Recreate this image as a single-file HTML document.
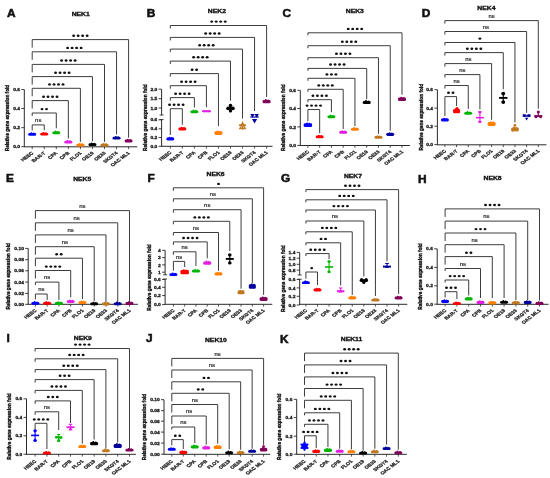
<!DOCTYPE html>
<html><head><meta charset="utf-8"><style>
html,body{margin:0;padding:0;background:#fff;}
svg{display:block;font-family:"Liberation Sans",sans-serif;filter:blur(0.3px);}
</style></head><body>
<svg width="550" height="478" viewBox="0 0 550 478">
<rect width="550" height="478" fill="#fff"/>
<text transform="translate(7,16.7) scale(1.08,0.92)" font-size="11" font-weight="bold" fill="#111" stroke="#111" stroke-width="0.55">A</text>
<text transform="translate(80.7,15.6) scale(1,0.84)" font-size="6.8" font-weight="bold" text-anchor="middle" fill="#111" stroke="#111" stroke-width="0.4">NEK1</text>
<line x1="24.3" y1="89.5" x2="24.3" y2="146.7" stroke="#2a2a2a" stroke-width="1"/>
<line x1="21.3" y1="146.7" x2="24.3" y2="146.7" stroke="#2a2a2a" stroke-width="0.9"/>
<text transform="translate(20,148.3) scale(1,0.76)" font-size="4.9" font-weight="bold" text-anchor="end" fill="#222" stroke="#222" stroke-width="0.35">0.0</text>
<line x1="21.3" y1="127.7" x2="24.3" y2="127.7" stroke="#2a2a2a" stroke-width="0.9"/>
<text transform="translate(20,129.3) scale(1,0.76)" font-size="4.9" font-weight="bold" text-anchor="end" fill="#222" stroke="#222" stroke-width="0.35">0.2</text>
<line x1="21.3" y1="108.5" x2="24.3" y2="108.5" stroke="#2a2a2a" stroke-width="0.9"/>
<text transform="translate(20,110.1) scale(1,0.76)" font-size="4.9" font-weight="bold" text-anchor="end" fill="#222" stroke="#222" stroke-width="0.35">0.4</text>
<line x1="21.3" y1="89.5" x2="24.3" y2="89.5" stroke="#2a2a2a" stroke-width="0.9"/>
<text transform="translate(20,91.1) scale(1,0.76)" font-size="4.9" font-weight="bold" text-anchor="end" fill="#222" stroke="#222" stroke-width="0.35">0.6</text>
<text transform="translate(8.7,118) scale(1,0.76) rotate(-90)" font-size="6.2" font-weight="bold" text-anchor="middle" fill="#111" stroke="#111" stroke-width="0.4">Relative gene expression fold</text>
<line x1="23.8" y1="146.8" x2="137.3" y2="146.8" stroke="#2a2a2a" stroke-width="1"/>
<line x1="32.2" y1="146.8" x2="32.2" y2="149.1" stroke="#2a2a2a" stroke-width="0.8"/>
<text transform="translate(33.8,153.4) scale(1,0.76) rotate(-45)" font-size="5.5" font-weight="bold" text-anchor="end" fill="#222" stroke="#222" stroke-width="0.3">HEEC</text>
<line x1="44.25" y1="146.8" x2="44.25" y2="149.1" stroke="#2a2a2a" stroke-width="0.8"/>
<text transform="translate(45.85,153.4) scale(1,0.76) rotate(-45)" font-size="5.5" font-weight="bold" text-anchor="end" fill="#222" stroke="#222" stroke-width="0.3">BAR-T</text>
<line x1="56.3" y1="146.8" x2="56.3" y2="149.1" stroke="#2a2a2a" stroke-width="0.8"/>
<text transform="translate(57.9,153.4) scale(1,0.76) rotate(-45)" font-size="5.5" font-weight="bold" text-anchor="end" fill="#222" stroke="#222" stroke-width="0.3">CPA</text>
<line x1="68.35" y1="146.8" x2="68.35" y2="149.1" stroke="#2a2a2a" stroke-width="0.8"/>
<text transform="translate(69.95,153.4) scale(1,0.76) rotate(-45)" font-size="5.5" font-weight="bold" text-anchor="end" fill="#222" stroke="#222" stroke-width="0.3">CPB</text>
<line x1="80.4" y1="146.8" x2="80.4" y2="149.1" stroke="#2a2a2a" stroke-width="0.8"/>
<text transform="translate(82,153.4) scale(1,0.76) rotate(-45)" font-size="5.5" font-weight="bold" text-anchor="end" fill="#222" stroke="#222" stroke-width="0.3">FLO1</text>
<line x1="92.45" y1="146.8" x2="92.45" y2="149.1" stroke="#2a2a2a" stroke-width="0.8"/>
<text transform="translate(94.05,153.4) scale(1,0.76) rotate(-45)" font-size="5.5" font-weight="bold" text-anchor="end" fill="#222" stroke="#222" stroke-width="0.3">OE19</text>
<line x1="104.5" y1="146.8" x2="104.5" y2="149.1" stroke="#2a2a2a" stroke-width="0.8"/>
<text transform="translate(106.1,153.4) scale(1,0.76) rotate(-45)" font-size="5.5" font-weight="bold" text-anchor="end" fill="#222" stroke="#222" stroke-width="0.3">OE33</text>
<line x1="116.55" y1="146.8" x2="116.55" y2="149.1" stroke="#2a2a2a" stroke-width="0.8"/>
<text transform="translate(118.15,153.4) scale(1,0.76) rotate(-45)" font-size="5.5" font-weight="bold" text-anchor="end" fill="#222" stroke="#222" stroke-width="0.3">SKGT4</text>
<line x1="128.6" y1="146.8" x2="128.6" y2="149.1" stroke="#2a2a2a" stroke-width="0.8"/>
<text transform="translate(130.2,153.4) scale(1,0.76) rotate(-45)" font-size="5.5" font-weight="bold" text-anchor="end" fill="#222" stroke="#222" stroke-width="0.3">OAC ML1</text>
<polyline points="32.2,130.4 32.2,124.9 44.25,124.9 44.25,130.2" fill="none" stroke="#333333" stroke-width="0.95"/>
<text transform="translate(38.23,122.2) scale(1,0.76)" font-size="5.9" text-anchor="middle" fill="#222" stroke="#222" stroke-width="0.2">ns</text>
<polyline points="32.2,116 32.2,113 56.3,113 56.3,128.3" fill="none" stroke="#333333" stroke-width="0.95"/>
<ellipse cx="42" cy="109.1" rx="1.45" ry="1.2" fill="#111"/>
<ellipse cx="46.5" cy="109.1" rx="1.45" ry="1.2" fill="#111"/>
<polyline points="32.2,108.6 32.2,100.6 68.35,100.6 68.35,138.5" fill="none" stroke="#333333" stroke-width="0.95"/>
<ellipse cx="43.52" cy="96.7" rx="1.45" ry="1.2" fill="#111"/>
<ellipse cx="48.02" cy="96.7" rx="1.45" ry="1.2" fill="#111"/>
<ellipse cx="52.52" cy="96.7" rx="1.45" ry="1.2" fill="#111"/>
<ellipse cx="57.02" cy="96.7" rx="1.45" ry="1.2" fill="#111"/>
<polyline points="32.2,96.3 32.2,88.3 80.4,88.3 80.4,141.9" fill="none" stroke="#333333" stroke-width="0.95"/>
<ellipse cx="49.55" cy="84.4" rx="1.45" ry="1.2" fill="#111"/>
<ellipse cx="54.05" cy="84.4" rx="1.45" ry="1.2" fill="#111"/>
<ellipse cx="58.55" cy="84.4" rx="1.45" ry="1.2" fill="#111"/>
<ellipse cx="63.05" cy="84.4" rx="1.45" ry="1.2" fill="#111"/>
<polyline points="32.2,84.6 32.2,76.6 92.45,76.6 92.45,141.2" fill="none" stroke="#333333" stroke-width="0.95"/>
<ellipse cx="55.57" cy="72.7" rx="1.45" ry="1.2" fill="#111"/>
<ellipse cx="60.07" cy="72.7" rx="1.45" ry="1.2" fill="#111"/>
<ellipse cx="64.57" cy="72.7" rx="1.45" ry="1.2" fill="#111"/>
<ellipse cx="69.07" cy="72.7" rx="1.45" ry="1.2" fill="#111"/>
<polyline points="32.2,72.4 32.2,64.4 104.5,64.4 104.5,141.9" fill="none" stroke="#333333" stroke-width="0.95"/>
<ellipse cx="61.6" cy="60.5" rx="1.45" ry="1.2" fill="#111"/>
<ellipse cx="66.1" cy="60.5" rx="1.45" ry="1.2" fill="#111"/>
<ellipse cx="70.6" cy="60.5" rx="1.45" ry="1.2" fill="#111"/>
<ellipse cx="75.1" cy="60.5" rx="1.45" ry="1.2" fill="#111"/>
<polyline points="32.2,59.8 32.2,51.8 116.55,51.8 116.55,134.4" fill="none" stroke="#333333" stroke-width="0.95"/>
<ellipse cx="67.62" cy="47.9" rx="1.45" ry="1.2" fill="#111"/>
<ellipse cx="72.12" cy="47.9" rx="1.45" ry="1.2" fill="#111"/>
<ellipse cx="76.62" cy="47.9" rx="1.45" ry="1.2" fill="#111"/>
<ellipse cx="81.12" cy="47.9" rx="1.45" ry="1.2" fill="#111"/>
<polyline points="32.2,47.6 32.2,39.6 128.6,39.6 128.6,137.7" fill="none" stroke="#333333" stroke-width="0.95"/>
<ellipse cx="73.65" cy="35.7" rx="1.45" ry="1.2" fill="#111"/>
<ellipse cx="78.15" cy="35.7" rx="1.45" ry="1.2" fill="#111"/>
<ellipse cx="82.65" cy="35.7" rx="1.45" ry="1.2" fill="#111"/>
<ellipse cx="87.15" cy="35.7" rx="1.45" ry="1.2" fill="#111"/>
<g fill="#0000ff" stroke="#0000ff">
<rect x="28.2" y="133" width="8" height="2.8" rx="1.4" stroke="none"/><circle cx="31.4" cy="133.2" r="1.0" stroke="none"/><circle cx="33.8" cy="133.4" r="0.9" stroke="none"/>
</g>
<g fill="#ff0000" stroke="#ff0000">
<rect x="40.25" y="132.8" width="8" height="2.8" rx="1.4" stroke="none"/><circle cx="43.45" cy="133" r="1.0" stroke="none"/><circle cx="45.85" cy="133.2" r="0.9" stroke="none"/>
</g>
<g fill="#00b400" stroke="#00b400">
<rect x="52.3" y="131.4" width="8" height="2.8" rx="1.4" stroke="none"/><circle cx="55.5" cy="131.6" r="1.0" stroke="none"/><circle cx="57.9" cy="131.8" r="0.9" stroke="none"/>
</g>
<g fill="#e21ee2" stroke="#e21ee2">
<rect x="64.35" y="140.8" width="8" height="2.8" rx="1.4" stroke="none"/><circle cx="67.55" cy="141" r="1.0" stroke="none"/><circle cx="69.95" cy="141.2" r="0.9" stroke="none"/>
</g>
<g fill="#ff8000" stroke="#ff8000">
<rect x="76.4" y="143.8" width="8" height="2.8" rx="1.4" stroke="none"/><circle cx="79.6" cy="144" r="1.0" stroke="none"/><circle cx="82" cy="144.2" r="0.9" stroke="none"/>
</g>
<g fill="#000000" stroke="#000000">
<rect x="88.45" y="143.3" width="8" height="2.8" rx="1.4" stroke="none"/><circle cx="91.65" cy="143.5" r="1.0" stroke="none"/><circle cx="94.05" cy="143.7" r="0.9" stroke="none"/>
</g>
<g fill="#c07820" stroke="#c07820">
<rect x="100.5" y="143.8" width="8" height="2.8" rx="1.4" stroke="none"/><circle cx="103.7" cy="144" r="1.0" stroke="none"/><circle cx="106.1" cy="144.2" r="0.9" stroke="none"/>
</g>
<g fill="#00009c" stroke="#00009c">
<rect x="112.55" y="136.8" width="8" height="2.8" rx="1.4" stroke="none"/><circle cx="115.75" cy="137" r="1.0" stroke="none"/><circle cx="118.15" cy="137.2" r="0.9" stroke="none"/>
</g>
<g fill="#80005a" stroke="#80005a">
<rect x="124.6" y="139.6" width="8" height="2.8" rx="1.4" stroke="none"/><circle cx="127.8" cy="139.8" r="1.0" stroke="none"/><circle cx="130.2" cy="140" r="0.9" stroke="none"/>
</g>
<text transform="translate(146.7,16.9) scale(1.08,0.92)" font-size="11" font-weight="bold" fill="#111" stroke="#111" stroke-width="0.55">B</text>
<text transform="translate(216.9,12.6) scale(1,0.84)" font-size="6.8" font-weight="bold" text-anchor="middle" fill="#111" stroke="#111" stroke-width="0.4">NEK2</text>
<line x1="161.6" y1="89.2" x2="161.6" y2="115" stroke="#2a2a2a" stroke-width="1"/>
<line x1="161.6" y1="119.6" x2="161.6" y2="146.3" stroke="#2a2a2a" stroke-width="1"/>
<line x1="159.6" y1="115" x2="163.6" y2="115" stroke="#2a2a2a" stroke-width="0.9"/>
<line x1="159.6" y1="119.6" x2="163.6" y2="119.6" stroke="#2a2a2a" stroke-width="0.9"/>
<line x1="158.6" y1="146.3" x2="161.6" y2="146.3" stroke="#2a2a2a" stroke-width="0.9"/>
<text transform="translate(157.3,147.9) scale(1,0.76)" font-size="4.9" font-weight="bold" text-anchor="end" fill="#222" stroke="#222" stroke-width="0.35">0.0</text>
<line x1="158.6" y1="137.5" x2="161.6" y2="137.5" stroke="#2a2a2a" stroke-width="0.9"/>
<text transform="translate(157.3,139.1) scale(1,0.76)" font-size="4.9" font-weight="bold" text-anchor="end" fill="#222" stroke="#222" stroke-width="0.35">0.2</text>
<line x1="158.6" y1="128.8" x2="161.6" y2="128.8" stroke="#2a2a2a" stroke-width="0.9"/>
<text transform="translate(157.3,130.4) scale(1,0.76)" font-size="4.9" font-weight="bold" text-anchor="end" fill="#222" stroke="#222" stroke-width="0.35">0.4</text>
<line x1="158.6" y1="119.8" x2="161.6" y2="119.8" stroke="#2a2a2a" stroke-width="0.9"/>
<text transform="translate(157.3,121.4) scale(1,0.76)" font-size="4.9" font-weight="bold" text-anchor="end" fill="#222" stroke="#222" stroke-width="0.35">0.6</text>
<line x1="158.6" y1="108" x2="161.6" y2="108" stroke="#2a2a2a" stroke-width="0.9"/>
<text transform="translate(157.3,109.6) scale(1,0.76)" font-size="4.9" font-weight="bold" text-anchor="end" fill="#222" stroke="#222" stroke-width="0.35">1.0</text>
<line x1="158.6" y1="98.7" x2="161.6" y2="98.7" stroke="#2a2a2a" stroke-width="0.9"/>
<text transform="translate(157.3,100.3) scale(1,0.76)" font-size="4.9" font-weight="bold" text-anchor="end" fill="#222" stroke="#222" stroke-width="0.35">1.5</text>
<line x1="158.6" y1="89.2" x2="161.6" y2="89.2" stroke="#2a2a2a" stroke-width="0.9"/>
<text transform="translate(157.3,90.8) scale(1,0.76)" font-size="4.9" font-weight="bold" text-anchor="end" fill="#222" stroke="#222" stroke-width="0.35">2.0</text>
<text transform="translate(147.1,117.7) scale(1,0.76) rotate(-90)" font-size="6.2" font-weight="bold" text-anchor="middle" fill="#111" stroke="#111" stroke-width="0.4">Relative gene expression fold</text>
<line x1="161.1" y1="146.3" x2="272.5" y2="146.3" stroke="#2a2a2a" stroke-width="1"/>
<line x1="170.3" y1="146.3" x2="170.3" y2="148.6" stroke="#2a2a2a" stroke-width="0.8"/>
<text transform="translate(171.9,152.9) scale(1,0.76) rotate(-45)" font-size="5.5" font-weight="bold" text-anchor="end" fill="#222" stroke="#222" stroke-width="0.3">HEEC</text>
<line x1="182.34" y1="146.3" x2="182.34" y2="148.6" stroke="#2a2a2a" stroke-width="0.8"/>
<text transform="translate(183.94,152.9) scale(1,0.76) rotate(-45)" font-size="5.5" font-weight="bold" text-anchor="end" fill="#222" stroke="#222" stroke-width="0.3">BAR-T</text>
<line x1="194.38" y1="146.3" x2="194.38" y2="148.6" stroke="#2a2a2a" stroke-width="0.8"/>
<text transform="translate(195.97,152.9) scale(1,0.76) rotate(-45)" font-size="5.5" font-weight="bold" text-anchor="end" fill="#222" stroke="#222" stroke-width="0.3">CPA</text>
<line x1="206.41" y1="146.3" x2="206.41" y2="148.6" stroke="#2a2a2a" stroke-width="0.8"/>
<text transform="translate(208.01,152.9) scale(1,0.76) rotate(-45)" font-size="5.5" font-weight="bold" text-anchor="end" fill="#222" stroke="#222" stroke-width="0.3">CPB</text>
<line x1="218.45" y1="146.3" x2="218.45" y2="148.6" stroke="#2a2a2a" stroke-width="0.8"/>
<text transform="translate(220.05,152.9) scale(1,0.76) rotate(-45)" font-size="5.5" font-weight="bold" text-anchor="end" fill="#222" stroke="#222" stroke-width="0.3">FLO1</text>
<line x1="230.49" y1="146.3" x2="230.49" y2="148.6" stroke="#2a2a2a" stroke-width="0.8"/>
<text transform="translate(232.09,152.9) scale(1,0.76) rotate(-45)" font-size="5.5" font-weight="bold" text-anchor="end" fill="#222" stroke="#222" stroke-width="0.3">OE19</text>
<line x1="242.53" y1="146.3" x2="242.53" y2="148.6" stroke="#2a2a2a" stroke-width="0.8"/>
<text transform="translate(244.13,152.9) scale(1,0.76) rotate(-45)" font-size="5.5" font-weight="bold" text-anchor="end" fill="#222" stroke="#222" stroke-width="0.3">OE33</text>
<line x1="254.56" y1="146.3" x2="254.56" y2="148.6" stroke="#2a2a2a" stroke-width="0.8"/>
<text transform="translate(256.16,152.9) scale(1,0.76) rotate(-45)" font-size="5.5" font-weight="bold" text-anchor="end" fill="#222" stroke="#222" stroke-width="0.3">SKGT4</text>
<line x1="266.6" y1="146.3" x2="266.6" y2="148.6" stroke="#2a2a2a" stroke-width="0.8"/>
<text transform="translate(268.2,152.9) scale(1,0.76) rotate(-45)" font-size="5.5" font-weight="bold" text-anchor="end" fill="#222" stroke="#222" stroke-width="0.3">OAC ML1</text>
<polyline points="170.3,135 170.3,108.7 182.34,108.7 182.34,124.8" fill="none" stroke="#333333" stroke-width="0.95"/>
<ellipse cx="169.57" cy="104.8" rx="1.45" ry="1.2" fill="#111"/>
<ellipse cx="174.07" cy="104.8" rx="1.45" ry="1.2" fill="#111"/>
<ellipse cx="178.57" cy="104.8" rx="1.45" ry="1.2" fill="#111"/>
<ellipse cx="183.07" cy="104.8" rx="1.45" ry="1.2" fill="#111"/>
<polyline points="170.3,100.6 170.3,97.6 194.38,97.6 194.38,107.5" fill="none" stroke="#333333" stroke-width="0.95"/>
<ellipse cx="175.59" cy="93.7" rx="1.45" ry="1.2" fill="#111"/>
<ellipse cx="180.09" cy="93.7" rx="1.45" ry="1.2" fill="#111"/>
<ellipse cx="184.59" cy="93.7" rx="1.45" ry="1.2" fill="#111"/>
<ellipse cx="189.09" cy="93.7" rx="1.45" ry="1.2" fill="#111"/>
<polyline points="170.3,88.7 170.3,85.7 206.41,85.7 206.41,107.3" fill="none" stroke="#333333" stroke-width="0.95"/>
<ellipse cx="181.61" cy="81.8" rx="1.45" ry="1.2" fill="#111"/>
<ellipse cx="186.11" cy="81.8" rx="1.45" ry="1.2" fill="#111"/>
<ellipse cx="190.61" cy="81.8" rx="1.45" ry="1.2" fill="#111"/>
<ellipse cx="195.11" cy="81.8" rx="1.45" ry="1.2" fill="#111"/>
<polyline points="170.3,76.6 170.3,73.6 218.45,73.6 218.45,126.1" fill="none" stroke="#333333" stroke-width="0.95"/>
<ellipse cx="192.12" cy="69.7" rx="1.45" ry="1.2" fill="#111"/>
<ellipse cx="196.62" cy="69.7" rx="1.45" ry="1.2" fill="#111"/>
<polyline points="170.3,64.1 170.3,61.1 230.49,61.1 230.49,100.7" fill="none" stroke="#333333" stroke-width="0.95"/>
<ellipse cx="193.64" cy="57.2" rx="1.45" ry="1.2" fill="#111"/>
<ellipse cx="198.14" cy="57.2" rx="1.45" ry="1.2" fill="#111"/>
<ellipse cx="202.64" cy="57.2" rx="1.45" ry="1.2" fill="#111"/>
<ellipse cx="207.14" cy="57.2" rx="1.45" ry="1.2" fill="#111"/>
<polyline points="170.3,52.1 170.3,49.1 242.53,49.1 242.53,118.6" fill="none" stroke="#333333" stroke-width="0.95"/>
<ellipse cx="199.66" cy="45.2" rx="1.45" ry="1.2" fill="#111"/>
<ellipse cx="204.16" cy="45.2" rx="1.45" ry="1.2" fill="#111"/>
<ellipse cx="208.66" cy="45.2" rx="1.45" ry="1.2" fill="#111"/>
<ellipse cx="213.16" cy="45.2" rx="1.45" ry="1.2" fill="#111"/>
<polyline points="170.3,40.4 170.3,37.4 254.56,37.4 254.56,111" fill="none" stroke="#333333" stroke-width="0.95"/>
<ellipse cx="205.68" cy="33.5" rx="1.45" ry="1.2" fill="#111"/>
<ellipse cx="210.18" cy="33.5" rx="1.45" ry="1.2" fill="#111"/>
<ellipse cx="214.68" cy="33.5" rx="1.45" ry="1.2" fill="#111"/>
<ellipse cx="219.18" cy="33.5" rx="1.45" ry="1.2" fill="#111"/>
<polyline points="170.3,28.5 170.3,25.5 266.6,25.5 266.6,97" fill="none" stroke="#333333" stroke-width="0.95"/>
<ellipse cx="211.7" cy="21.6" rx="1.45" ry="1.2" fill="#111"/>
<ellipse cx="216.2" cy="21.6" rx="1.45" ry="1.2" fill="#111"/>
<ellipse cx="220.7" cy="21.6" rx="1.45" ry="1.2" fill="#111"/>
<ellipse cx="225.2" cy="21.6" rx="1.45" ry="1.2" fill="#111"/>
<g fill="#0000ff" stroke="#0000ff">
<rect x="166.3" y="137.5" width="8" height="3" rx="1.4" stroke="none"/><circle cx="169.5" cy="137.7" r="1.0" stroke="none"/><circle cx="171.9" cy="137.9" r="0.9" stroke="none"/>
</g>
<g fill="#ff0000" stroke="#ff0000">
<rect x="178.34" y="127.6" width="8" height="2.8" rx="1.4" stroke="none"/><circle cx="181.54" cy="127.8" r="1.0" stroke="none"/><circle cx="183.94" cy="128" r="0.9" stroke="none"/>
</g>
<g fill="#00b400" stroke="#00b400">
<rect x="190.38" y="110.4" width="8" height="2.8" rx="1.4" stroke="none"/><circle cx="193.57" cy="110.6" r="1.0" stroke="none"/><circle cx="195.97" cy="110.8" r="0.9" stroke="none"/>
</g>
<g fill="#e21ee2" stroke="#e21ee2">
<line x1="201.91" y1="111.2" x2="210.91" y2="111.2" stroke-width="1.3"/><circle cx="204.01" cy="111.2" r="1.3" stroke="none"/><circle cx="206.71" cy="111.2" r="1.3" stroke="none"/><circle cx="209.21" cy="111.2" r="1.3" stroke="none"/>
</g>
<g fill="#ff8000" stroke="#ff8000">
<rect x="214.45" y="131.2" width="8" height="3.8" rx="1.4" stroke="none"/><circle cx="217.65" cy="131.4" r="1.0" stroke="none"/><circle cx="220.05" cy="131.6" r="0.9" stroke="none"/>
</g>
<g fill="#000000" stroke="#000000">
<line x1="226.49" y1="108.6" x2="234.49" y2="108.6" stroke-width="1.6"/><circle cx="230.49" cy="105.6" r="1.8" stroke="none"/><circle cx="228.09" cy="108.4" r="1.8" stroke="none"/><circle cx="232.89" cy="108.4" r="1.8" stroke="none"/><circle cx="230.49" cy="110.9" r="1.7" stroke="none"/><circle cx="230.49" cy="108.3" r="1.6" stroke="none"/>
</g>
<g fill="#c07820" stroke="#c07820">
<line x1="242.53" y1="121.5" x2="242.53" y2="129.5" stroke-width="1.1"/><line x1="239.03" y1="125.2" x2="246.03" y2="125.2" stroke-width="1.8"/><circle cx="242.53" cy="125.5" r="1.5" stroke="none"/><polygon points="240.43,125.19 244.63,125.19 242.53,121.62" stroke="none"/><polygon points="238.63,129.3 242.63,129.3 240.63,125.9" stroke="none"/><polygon points="242.43,129.3 246.43,129.3 244.43,125.9" stroke="none"/>
</g>
<g fill="#00009c" stroke="#00009c">
<line x1="250.36" y1="117" x2="258.76" y2="117" stroke-width="1.2"/><polygon points="250.31,113.97 254.61,113.97 252.46,117.63" stroke="none"/><polygon points="254.51,113.97 258.81,113.97 256.66,117.63" stroke="none"/><polygon points="251.96,119.09 257.16,119.09 254.56,123.51" stroke="none"/>
</g>
<g fill="#80005a" stroke="#80005a">
<rect x="262.6" y="99.9" width="8" height="3.4" rx="1.4" stroke="none"/><circle cx="265.8" cy="100.1" r="1.0" stroke="none"/><circle cx="268.2" cy="100.3" r="0.9" stroke="none"/>
</g>
<text transform="translate(282.5,16.6) scale(1.08,0.92)" font-size="11" font-weight="bold" fill="#111" stroke="#111" stroke-width="0.55">C</text>
<text transform="translate(354.8,13) scale(1,0.84)" font-size="6.8" font-weight="bold" text-anchor="middle" fill="#111" stroke="#111" stroke-width="0.4">NEK3</text>
<line x1="300.3" y1="90.3" x2="300.3" y2="145.4" stroke="#2a2a2a" stroke-width="1"/>
<line x1="297.3" y1="145.4" x2="300.3" y2="145.4" stroke="#2a2a2a" stroke-width="0.9"/>
<text transform="translate(296,147) scale(1,0.76)" font-size="4.9" font-weight="bold" text-anchor="end" fill="#222" stroke="#222" stroke-width="0.35">0.0</text>
<line x1="297.3" y1="126.9" x2="300.3" y2="126.9" stroke="#2a2a2a" stroke-width="0.9"/>
<text transform="translate(296,128.5) scale(1,0.76)" font-size="4.9" font-weight="bold" text-anchor="end" fill="#222" stroke="#222" stroke-width="0.35">0.2</text>
<line x1="297.3" y1="108.5" x2="300.3" y2="108.5" stroke="#2a2a2a" stroke-width="0.9"/>
<text transform="translate(296,110.1) scale(1,0.76)" font-size="4.9" font-weight="bold" text-anchor="end" fill="#222" stroke="#222" stroke-width="0.35">0.4</text>
<line x1="297.3" y1="90.3" x2="300.3" y2="90.3" stroke="#2a2a2a" stroke-width="0.9"/>
<text transform="translate(296,91.9) scale(1,0.76)" font-size="4.9" font-weight="bold" text-anchor="end" fill="#222" stroke="#222" stroke-width="0.35">0.6</text>
<text transform="translate(285.4,117.7) scale(1,0.76) rotate(-90)" font-size="6.2" font-weight="bold" text-anchor="middle" fill="#111" stroke="#111" stroke-width="0.4">Relative gene expression fold</text>
<line x1="299.8" y1="145.5" x2="409.8" y2="145.5" stroke="#2a2a2a" stroke-width="1"/>
<line x1="307.9" y1="145.5" x2="307.9" y2="147.8" stroke="#2a2a2a" stroke-width="0.8"/>
<text transform="translate(309.5,152.1) scale(1,0.76) rotate(-45)" font-size="5.5" font-weight="bold" text-anchor="end" fill="#222" stroke="#222" stroke-width="0.3">HEEC</text>
<line x1="319.66" y1="145.5" x2="319.66" y2="147.8" stroke="#2a2a2a" stroke-width="0.8"/>
<text transform="translate(321.26,152.1) scale(1,0.76) rotate(-45)" font-size="5.5" font-weight="bold" text-anchor="end" fill="#222" stroke="#222" stroke-width="0.3">BAR-T</text>
<line x1="331.42" y1="145.5" x2="331.42" y2="147.8" stroke="#2a2a2a" stroke-width="0.8"/>
<text transform="translate(333.02,152.1) scale(1,0.76) rotate(-45)" font-size="5.5" font-weight="bold" text-anchor="end" fill="#222" stroke="#222" stroke-width="0.3">CPA</text>
<line x1="343.19" y1="145.5" x2="343.19" y2="147.8" stroke="#2a2a2a" stroke-width="0.8"/>
<text transform="translate(344.79,152.1) scale(1,0.76) rotate(-45)" font-size="5.5" font-weight="bold" text-anchor="end" fill="#222" stroke="#222" stroke-width="0.3">CPB</text>
<line x1="354.95" y1="145.5" x2="354.95" y2="147.8" stroke="#2a2a2a" stroke-width="0.8"/>
<text transform="translate(356.55,152.1) scale(1,0.76) rotate(-45)" font-size="5.5" font-weight="bold" text-anchor="end" fill="#222" stroke="#222" stroke-width="0.3">FLO1</text>
<line x1="366.71" y1="145.5" x2="366.71" y2="147.8" stroke="#2a2a2a" stroke-width="0.8"/>
<text transform="translate(368.31,152.1) scale(1,0.76) rotate(-45)" font-size="5.5" font-weight="bold" text-anchor="end" fill="#222" stroke="#222" stroke-width="0.3">OE19</text>
<line x1="378.48" y1="145.5" x2="378.48" y2="147.8" stroke="#2a2a2a" stroke-width="0.8"/>
<text transform="translate(380.08,152.1) scale(1,0.76) rotate(-45)" font-size="5.5" font-weight="bold" text-anchor="end" fill="#222" stroke="#222" stroke-width="0.3">OE33</text>
<line x1="390.24" y1="145.5" x2="390.24" y2="147.8" stroke="#2a2a2a" stroke-width="0.8"/>
<text transform="translate(391.84,152.1) scale(1,0.76) rotate(-45)" font-size="5.5" font-weight="bold" text-anchor="end" fill="#222" stroke="#222" stroke-width="0.3">SKGT4</text>
<line x1="402" y1="145.5" x2="402" y2="147.8" stroke="#2a2a2a" stroke-width="0.8"/>
<text transform="translate(403.6,152.1) scale(1,0.76) rotate(-45)" font-size="5.5" font-weight="bold" text-anchor="end" fill="#222" stroke="#222" stroke-width="0.3">OAC ML1</text>
<polyline points="307.9,121.2 307.9,109.5 319.66,109.5 319.66,133.1" fill="none" stroke="#333333" stroke-width="0.95"/>
<ellipse cx="307.03" cy="105.6" rx="1.45" ry="1.2" fill="#111"/>
<ellipse cx="311.53" cy="105.6" rx="1.45" ry="1.2" fill="#111"/>
<ellipse cx="316.03" cy="105.6" rx="1.45" ry="1.2" fill="#111"/>
<ellipse cx="320.53" cy="105.6" rx="1.45" ry="1.2" fill="#111"/>
<polyline points="307.9,102.2 307.9,99.7 331.42,99.7 331.42,112.2" fill="none" stroke="#333333" stroke-width="0.95"/>
<ellipse cx="312.91" cy="95.8" rx="1.45" ry="1.2" fill="#111"/>
<ellipse cx="317.41" cy="95.8" rx="1.45" ry="1.2" fill="#111"/>
<ellipse cx="321.91" cy="95.8" rx="1.45" ry="1.2" fill="#111"/>
<ellipse cx="326.41" cy="95.8" rx="1.45" ry="1.2" fill="#111"/>
<polyline points="307.9,91.8 307.9,89.3 343.19,89.3 343.19,129" fill="none" stroke="#333333" stroke-width="0.95"/>
<ellipse cx="318.79" cy="85.4" rx="1.45" ry="1.2" fill="#111"/>
<ellipse cx="323.29" cy="85.4" rx="1.45" ry="1.2" fill="#111"/>
<ellipse cx="327.79" cy="85.4" rx="1.45" ry="1.2" fill="#111"/>
<ellipse cx="332.29" cy="85.4" rx="1.45" ry="1.2" fill="#111"/>
<polyline points="307.9,80.8 307.9,78.3 354.95,78.3 354.95,126.1" fill="none" stroke="#333333" stroke-width="0.95"/>
<ellipse cx="326.92" cy="74.4" rx="1.45" ry="1.2" fill="#111"/>
<ellipse cx="331.42" cy="74.4" rx="1.45" ry="1.2" fill="#111"/>
<ellipse cx="335.92" cy="74.4" rx="1.45" ry="1.2" fill="#111"/>
<polyline points="307.9,70.9 307.9,68.4 366.71,68.4 366.71,99.3" fill="none" stroke="#333333" stroke-width="0.95"/>
<ellipse cx="330.56" cy="64.5" rx="1.45" ry="1.2" fill="#111"/>
<ellipse cx="335.06" cy="64.5" rx="1.45" ry="1.2" fill="#111"/>
<ellipse cx="339.56" cy="64.5" rx="1.45" ry="1.2" fill="#111"/>
<ellipse cx="344.06" cy="64.5" rx="1.45" ry="1.2" fill="#111"/>
<polyline points="307.9,60.2 307.9,57.7 378.48,57.7 378.48,133.9" fill="none" stroke="#333333" stroke-width="0.95"/>
<ellipse cx="336.44" cy="53.8" rx="1.45" ry="1.2" fill="#111"/>
<ellipse cx="340.94" cy="53.8" rx="1.45" ry="1.2" fill="#111"/>
<ellipse cx="345.44" cy="53.8" rx="1.45" ry="1.2" fill="#111"/>
<ellipse cx="349.94" cy="53.8" rx="1.45" ry="1.2" fill="#111"/>
<polyline points="307.9,48.2 307.9,45.7 390.24,45.7 390.24,130.7" fill="none" stroke="#333333" stroke-width="0.95"/>
<ellipse cx="342.32" cy="41.8" rx="1.45" ry="1.2" fill="#111"/>
<ellipse cx="346.82" cy="41.8" rx="1.45" ry="1.2" fill="#111"/>
<ellipse cx="351.32" cy="41.8" rx="1.45" ry="1.2" fill="#111"/>
<ellipse cx="355.82" cy="41.8" rx="1.45" ry="1.2" fill="#111"/>
<polyline points="307.9,35.3 307.9,32.8 402,32.8 402,94.7" fill="none" stroke="#333333" stroke-width="0.95"/>
<ellipse cx="348.2" cy="28.9" rx="1.45" ry="1.2" fill="#111"/>
<ellipse cx="352.7" cy="28.9" rx="1.45" ry="1.2" fill="#111"/>
<ellipse cx="357.2" cy="28.9" rx="1.45" ry="1.2" fill="#111"/>
<ellipse cx="361.7" cy="28.9" rx="1.45" ry="1.2" fill="#111"/>
<g fill="#0000ff" stroke="#0000ff">
<rect x="303.65" y="123.3" width="8.5" height="3.8" rx="1.4" stroke="none"/><circle cx="307.1" cy="123.5" r="1.0" stroke="none"/><circle cx="309.5" cy="123.7" r="0.9" stroke="none"/>
</g>
<g fill="#ff0000" stroke="#ff0000">
<rect x="315.66" y="135.5" width="8" height="2.8" rx="1.4" stroke="none"/><circle cx="318.86" cy="135.7" r="1.0" stroke="none"/><circle cx="321.26" cy="135.9" r="0.9" stroke="none"/>
</g>
<g fill="#00b400" stroke="#00b400">
<rect x="327.42" y="115.4" width="8" height="2.8" rx="1.4" stroke="none"/><circle cx="330.62" cy="115.6" r="1.0" stroke="none"/><circle cx="333.02" cy="115.8" r="0.9" stroke="none"/>
</g>
<g fill="#e21ee2" stroke="#e21ee2">
<rect x="339.19" y="131" width="8" height="2.8" rx="1.4" stroke="none"/><circle cx="342.39" cy="131.2" r="1.0" stroke="none"/><circle cx="344.79" cy="131.4" r="0.9" stroke="none"/>
</g>
<g fill="#ff8000" stroke="#ff8000">
<rect x="350.95" y="127.9" width="8" height="2.8" rx="1.4" stroke="none"/><circle cx="354.15" cy="128.1" r="1.0" stroke="none"/><circle cx="356.55" cy="128.3" r="0.9" stroke="none"/>
</g>
<g fill="#000000" stroke="#000000">
<rect x="362.71" y="100.9" width="8" height="3.2" rx="1.4" stroke="none"/><circle cx="365.91" cy="101.1" r="1.0" stroke="none"/><circle cx="368.31" cy="101.3" r="0.9" stroke="none"/>
</g>
<g fill="#c07820" stroke="#c07820">
<rect x="374.48" y="136" width="8" height="2.8" rx="1.4" stroke="none"/><circle cx="377.68" cy="136.2" r="1.0" stroke="none"/><circle cx="380.08" cy="136.4" r="0.9" stroke="none"/>
</g>
<g fill="#00009c" stroke="#00009c">
<rect x="386.24" y="133.1" width="8" height="2.8" rx="1.4" stroke="none"/><circle cx="389.44" cy="133.3" r="1.0" stroke="none"/><circle cx="391.84" cy="133.5" r="0.9" stroke="none"/>
</g>
<g fill="#80005a" stroke="#80005a">
<rect x="398" y="97.5" width="8" height="3.6" rx="1.4" stroke="none"/><circle cx="401.2" cy="97.7" r="1.0" stroke="none"/><circle cx="403.6" cy="97.9" r="0.9" stroke="none"/>
</g>
<text transform="translate(421.7,16.6) scale(1.08,0.92)" font-size="11" font-weight="bold" fill="#111" stroke="#111" stroke-width="0.55">D</text>
<text transform="translate(486.4,10) scale(1,0.84)" font-size="6.8" font-weight="bold" text-anchor="middle" fill="#111" stroke="#111" stroke-width="0.4">NEK4</text>
<line x1="437.4" y1="89.7" x2="437.4" y2="144.6" stroke="#2a2a2a" stroke-width="1"/>
<line x1="434.4" y1="144.6" x2="437.4" y2="144.6" stroke="#2a2a2a" stroke-width="0.9"/>
<text transform="translate(433.1,146.2) scale(1,0.76)" font-size="4.9" font-weight="bold" text-anchor="end" fill="#222" stroke="#222" stroke-width="0.35">0.0</text>
<line x1="434.4" y1="126.2" x2="437.4" y2="126.2" stroke="#2a2a2a" stroke-width="0.9"/>
<text transform="translate(433.1,127.8) scale(1,0.76)" font-size="4.9" font-weight="bold" text-anchor="end" fill="#222" stroke="#222" stroke-width="0.35">0.2</text>
<line x1="434.4" y1="108.1" x2="437.4" y2="108.1" stroke="#2a2a2a" stroke-width="0.9"/>
<text transform="translate(433.1,109.7) scale(1,0.76)" font-size="4.9" font-weight="bold" text-anchor="end" fill="#222" stroke="#222" stroke-width="0.35">0.4</text>
<line x1="434.4" y1="89.7" x2="437.4" y2="89.7" stroke="#2a2a2a" stroke-width="0.9"/>
<text transform="translate(433.1,91.3) scale(1,0.76)" font-size="4.9" font-weight="bold" text-anchor="end" fill="#222" stroke="#222" stroke-width="0.35">0.6</text>
<text transform="translate(423.2,117.2) scale(1,0.76) rotate(-90)" font-size="6.2" font-weight="bold" text-anchor="middle" fill="#111" stroke="#111" stroke-width="0.4">Relative gene expression fold</text>
<line x1="436.9" y1="144.8" x2="546.4" y2="144.8" stroke="#2a2a2a" stroke-width="1"/>
<line x1="444.9" y1="144.8" x2="444.9" y2="147.1" stroke="#2a2a2a" stroke-width="0.8"/>
<text transform="translate(446.5,151.4) scale(1,0.76) rotate(-45)" font-size="5.5" font-weight="bold" text-anchor="end" fill="#222" stroke="#222" stroke-width="0.3">HEEC</text>
<line x1="456.57" y1="144.8" x2="456.57" y2="147.1" stroke="#2a2a2a" stroke-width="0.8"/>
<text transform="translate(458.18,151.4) scale(1,0.76) rotate(-45)" font-size="5.5" font-weight="bold" text-anchor="end" fill="#222" stroke="#222" stroke-width="0.3">BAR-T</text>
<line x1="468.25" y1="144.8" x2="468.25" y2="147.1" stroke="#2a2a2a" stroke-width="0.8"/>
<text transform="translate(469.85,151.4) scale(1,0.76) rotate(-45)" font-size="5.5" font-weight="bold" text-anchor="end" fill="#222" stroke="#222" stroke-width="0.3">CPA</text>
<line x1="479.92" y1="144.8" x2="479.92" y2="147.1" stroke="#2a2a2a" stroke-width="0.8"/>
<text transform="translate(481.52,151.4) scale(1,0.76) rotate(-45)" font-size="5.5" font-weight="bold" text-anchor="end" fill="#222" stroke="#222" stroke-width="0.3">CPB</text>
<line x1="491.6" y1="144.8" x2="491.6" y2="147.1" stroke="#2a2a2a" stroke-width="0.8"/>
<text transform="translate(493.2,151.4) scale(1,0.76) rotate(-45)" font-size="5.5" font-weight="bold" text-anchor="end" fill="#222" stroke="#222" stroke-width="0.3">FLO1</text>
<line x1="503.27" y1="144.8" x2="503.27" y2="147.1" stroke="#2a2a2a" stroke-width="0.8"/>
<text transform="translate(504.88,151.4) scale(1,0.76) rotate(-45)" font-size="5.5" font-weight="bold" text-anchor="end" fill="#222" stroke="#222" stroke-width="0.3">OE19</text>
<line x1="514.95" y1="144.8" x2="514.95" y2="147.1" stroke="#2a2a2a" stroke-width="0.8"/>
<text transform="translate(516.55,151.4) scale(1,0.76) rotate(-45)" font-size="5.5" font-weight="bold" text-anchor="end" fill="#222" stroke="#222" stroke-width="0.3">OE33</text>
<line x1="526.62" y1="144.8" x2="526.62" y2="147.1" stroke="#2a2a2a" stroke-width="0.8"/>
<text transform="translate(528.23,151.4) scale(1,0.76) rotate(-45)" font-size="5.5" font-weight="bold" text-anchor="end" fill="#222" stroke="#222" stroke-width="0.3">SKGT4</text>
<line x1="538.3" y1="144.8" x2="538.3" y2="147.1" stroke="#2a2a2a" stroke-width="0.8"/>
<text transform="translate(539.9,151.4) scale(1,0.76) rotate(-45)" font-size="5.5" font-weight="bold" text-anchor="end" fill="#222" stroke="#222" stroke-width="0.3">OAC ML1</text>
<polyline points="444.9,116 444.9,96.6 456.57,96.6 456.57,106" fill="none" stroke="#333333" stroke-width="0.95"/>
<ellipse cx="448.49" cy="92.7" rx="1.45" ry="1.2" fill="#111"/>
<ellipse cx="452.99" cy="92.7" rx="1.45" ry="1.2" fill="#111"/>
<polyline points="444.9,88.5 444.9,85.5 468.25,85.5 468.25,109" fill="none" stroke="#333333" stroke-width="0.95"/>
<text transform="translate(456.57,82.8) scale(1,0.76)" font-size="5.9" text-anchor="middle" fill="#222" stroke="#222" stroke-width="0.2">ns</text>
<polyline points="444.9,77.6 444.9,74.6 479.92,74.6 479.92,109.4" fill="none" stroke="#333333" stroke-width="0.95"/>
<text transform="translate(462.41,71.9) scale(1,0.76)" font-size="5.9" text-anchor="middle" fill="#222" stroke="#222" stroke-width="0.2">ns</text>
<polyline points="444.9,66.6 444.9,63.6 491.6,63.6 491.6,119.8" fill="none" stroke="#333333" stroke-width="0.95"/>
<text transform="translate(468.25,60.9) scale(1,0.76)" font-size="5.9" text-anchor="middle" fill="#222" stroke="#222" stroke-width="0.2">ns</text>
<polyline points="444.9,55.6 444.9,52.6 503.27,52.6 503.27,89.3" fill="none" stroke="#333333" stroke-width="0.95"/>
<ellipse cx="467.34" cy="48.7" rx="1.45" ry="1.2" fill="#111"/>
<ellipse cx="471.84" cy="48.7" rx="1.45" ry="1.2" fill="#111"/>
<ellipse cx="476.34" cy="48.7" rx="1.45" ry="1.2" fill="#111"/>
<ellipse cx="480.84" cy="48.7" rx="1.45" ry="1.2" fill="#111"/>
<polyline points="444.9,45.5 444.9,42.5 514.95,42.5 514.95,122.4" fill="none" stroke="#333333" stroke-width="0.95"/>
<ellipse cx="479.92" cy="38.6" rx="1.45" ry="1.2" fill="#111"/>
<polyline points="444.9,34.5 444.9,31.5 526.62,31.5 526.62,112.9" fill="none" stroke="#333333" stroke-width="0.95"/>
<text transform="translate(485.76,28.8) scale(1,0.76)" font-size="5.9" text-anchor="middle" fill="#222" stroke="#222" stroke-width="0.2">ns</text>
<polyline points="444.9,23.6 444.9,20.6 538.3,20.6 538.3,108.7" fill="none" stroke="#333333" stroke-width="0.95"/>
<text transform="translate(491.6,17.9) scale(1,0.76)" font-size="5.9" text-anchor="middle" fill="#222" stroke="#222" stroke-width="0.2">ns</text>
<g fill="#0000ff" stroke="#0000ff">
<rect x="440.9" y="118.5" width="8" height="3" rx="1.4" stroke="none"/><circle cx="444.1" cy="118.7" r="1.0" stroke="none"/><circle cx="446.5" cy="118.9" r="0.9" stroke="none"/>
</g>
<g fill="#ff0000" stroke="#ff0000">
<rect x="453.07" y="109.1" width="7" height="4.2" rx="1.4" stroke="none"/><circle cx="455.77" cy="109.3" r="1.0" stroke="none"/><circle cx="458.18" cy="109.5" r="0.9" stroke="none"/><circle cx="456.97" cy="108.6" r="1.5" stroke="none"/>
</g>
<g fill="#00b400" stroke="#00b400">
<rect x="464.25" y="111.9" width="8" height="2.8" rx="1.4" stroke="none"/><circle cx="467.45" cy="112.1" r="1.0" stroke="none"/><circle cx="469.85" cy="112.3" r="0.9" stroke="none"/>
</g>
<g fill="#e21ee2" stroke="#e21ee2">
<line x1="479.92" y1="111.9" x2="479.92" y2="122" stroke-width="1.1"/><line x1="478.12" y1="111.9" x2="481.72" y2="111.9" stroke-width="1.1"/><line x1="478.12" y1="122" x2="481.72" y2="122" stroke-width="1.1"/><line x1="475.92" y1="117.7" x2="483.92" y2="117.7" stroke-width="1.5"/><circle cx="479.92" cy="112.2" r="1.3" stroke="none"/><circle cx="479.92" cy="121.7" r="1.3" stroke="none"/>
</g>
<g fill="#ff8000" stroke="#ff8000">
<rect x="487.6" y="122.1" width="8" height="3.8" rx="1.4" stroke="none"/><circle cx="490.8" cy="122.3" r="1.0" stroke="none"/><circle cx="493.2" cy="122.5" r="0.9" stroke="none"/>
</g>
<g fill="#000000" stroke="#000000">
<line x1="503.27" y1="93.4" x2="503.27" y2="102.3" stroke-width="1.1"/><line x1="501.57" y1="93.4" x2="504.97" y2="93.4" stroke-width="1.1"/><line x1="501.57" y1="102.3" x2="504.97" y2="102.3" stroke-width="1.1"/><line x1="499.07" y1="97.9" x2="507.47" y2="97.9" stroke-width="1.9"/><circle cx="503.27" cy="93.6" r="1.9" stroke="none"/><circle cx="503.27" cy="102.1" r="1.9" stroke="none"/>
</g>
<g fill="#c07820" stroke="#c07820">
<rect x="511.2" y="127.4" width="7.5" height="3.8" rx="1.4" stroke="none"/><circle cx="514.15" cy="127.6" r="1.0" stroke="none"/><circle cx="516.55" cy="127.8" r="0.9" stroke="none"/><circle cx="514.95" cy="125.4" r="1.4" stroke="none"/><circle cx="512.75" cy="130.3" r="1.4" stroke="none"/><circle cx="517.25" cy="130" r="1.4" stroke="none"/>
</g>
<g fill="#00009c" stroke="#00009c">
<line x1="522.62" y1="116" x2="530.62" y2="116" stroke-width="1.6"/><polygon points="522.53,114.37 526.12,114.37 524.33,117.43" stroke="none"/><polygon points="527.12,114.37 530.72,114.37 528.92,117.43" stroke="none"/><polygon points="525.02,117.84 528.23,117.84 526.62,120.56" stroke="none"/>
</g>
<g fill="#80005a" stroke="#80005a">
<line x1="538.3" y1="111.7" x2="538.3" y2="116.4" stroke-width="1.1"/><line x1="534.3" y1="116" x2="542.3" y2="116" stroke-width="1.8"/><circle cx="538.3" cy="111.9" r="1.5" stroke="none"/><circle cx="536" cy="116.9" r="1.4" stroke="none"/><circle cx="540.6" cy="116.9" r="1.4" stroke="none"/>
</g>
<text transform="translate(5.9,182.3) scale(1.08,0.92)" font-size="11" font-weight="bold" fill="#111" stroke="#111" stroke-width="0.55">E</text>
<text transform="translate(82.2,180.9) scale(1,0.84)" font-size="6.8" font-weight="bold" text-anchor="middle" fill="#111" stroke="#111" stroke-width="0.4">NEK5</text>
<line x1="28.2" y1="248.4" x2="28.2" y2="304.3" stroke="#2a2a2a" stroke-width="1"/>
<line x1="25.2" y1="304.3" x2="28.2" y2="304.3" stroke="#2a2a2a" stroke-width="0.9"/>
<text transform="translate(23.9,305.9) scale(1,0.76)" font-size="4.9" font-weight="bold" text-anchor="end" fill="#222" stroke="#222" stroke-width="0.35">0.00</text>
<line x1="25.2" y1="293.4" x2="28.2" y2="293.4" stroke="#2a2a2a" stroke-width="0.9"/>
<text transform="translate(23.9,295) scale(1,0.76)" font-size="4.9" font-weight="bold" text-anchor="end" fill="#222" stroke="#222" stroke-width="0.35">0.02</text>
<line x1="25.2" y1="282.1" x2="28.2" y2="282.1" stroke="#2a2a2a" stroke-width="0.9"/>
<text transform="translate(23.9,283.7) scale(1,0.76)" font-size="4.9" font-weight="bold" text-anchor="end" fill="#222" stroke="#222" stroke-width="0.35">0.04</text>
<line x1="25.2" y1="270.8" x2="28.2" y2="270.8" stroke="#2a2a2a" stroke-width="0.9"/>
<text transform="translate(23.9,272.4) scale(1,0.76)" font-size="4.9" font-weight="bold" text-anchor="end" fill="#222" stroke="#222" stroke-width="0.35">0.06</text>
<line x1="25.2" y1="259.7" x2="28.2" y2="259.7" stroke="#2a2a2a" stroke-width="0.9"/>
<text transform="translate(23.9,261.3) scale(1,0.76)" font-size="4.9" font-weight="bold" text-anchor="end" fill="#222" stroke="#222" stroke-width="0.35">0.08</text>
<line x1="25.2" y1="248.4" x2="28.2" y2="248.4" stroke="#2a2a2a" stroke-width="0.9"/>
<text transform="translate(23.9,250) scale(1,0.76)" font-size="4.9" font-weight="bold" text-anchor="end" fill="#222" stroke="#222" stroke-width="0.35">0.10</text>
<text transform="translate(9.5,276.3) scale(1,0.76) rotate(-90)" font-size="6.2" font-weight="bold" text-anchor="middle" fill="#111" stroke="#111" stroke-width="0.4">Relative gene expression fold</text>
<line x1="27.7" y1="304.3" x2="137.9" y2="304.3" stroke="#2a2a2a" stroke-width="1"/>
<line x1="35.4" y1="304.3" x2="35.4" y2="306.6" stroke="#2a2a2a" stroke-width="0.8"/>
<text transform="translate(37,310.9) scale(1,0.76) rotate(-45)" font-size="5.5" font-weight="bold" text-anchor="end" fill="#222" stroke="#222" stroke-width="0.3">HEEC</text>
<line x1="47.16" y1="304.3" x2="47.16" y2="306.6" stroke="#2a2a2a" stroke-width="0.8"/>
<text transform="translate(48.76,310.9) scale(1,0.76) rotate(-45)" font-size="5.5" font-weight="bold" text-anchor="end" fill="#222" stroke="#222" stroke-width="0.3">BAR-T</text>
<line x1="58.92" y1="304.3" x2="58.92" y2="306.6" stroke="#2a2a2a" stroke-width="0.8"/>
<text transform="translate(60.52,310.9) scale(1,0.76) rotate(-45)" font-size="5.5" font-weight="bold" text-anchor="end" fill="#222" stroke="#222" stroke-width="0.3">CPA</text>
<line x1="70.69" y1="304.3" x2="70.69" y2="306.6" stroke="#2a2a2a" stroke-width="0.8"/>
<text transform="translate(72.29,310.9) scale(1,0.76) rotate(-45)" font-size="5.5" font-weight="bold" text-anchor="end" fill="#222" stroke="#222" stroke-width="0.3">CPB</text>
<line x1="82.45" y1="304.3" x2="82.45" y2="306.6" stroke="#2a2a2a" stroke-width="0.8"/>
<text transform="translate(84.05,310.9) scale(1,0.76) rotate(-45)" font-size="5.5" font-weight="bold" text-anchor="end" fill="#222" stroke="#222" stroke-width="0.3">FLO1</text>
<line x1="94.21" y1="304.3" x2="94.21" y2="306.6" stroke="#2a2a2a" stroke-width="0.8"/>
<text transform="translate(95.81,310.9) scale(1,0.76) rotate(-45)" font-size="5.5" font-weight="bold" text-anchor="end" fill="#222" stroke="#222" stroke-width="0.3">OE19</text>
<line x1="105.97" y1="304.3" x2="105.97" y2="306.6" stroke="#2a2a2a" stroke-width="0.8"/>
<text transform="translate(107.57,310.9) scale(1,0.76) rotate(-45)" font-size="5.5" font-weight="bold" text-anchor="end" fill="#222" stroke="#222" stroke-width="0.3">OE33</text>
<line x1="117.74" y1="304.3" x2="117.74" y2="306.6" stroke="#2a2a2a" stroke-width="0.8"/>
<text transform="translate(119.34,310.9) scale(1,0.76) rotate(-45)" font-size="5.5" font-weight="bold" text-anchor="end" fill="#222" stroke="#222" stroke-width="0.3">SKGT4</text>
<line x1="129.5" y1="304.3" x2="129.5" y2="306.6" stroke="#2a2a2a" stroke-width="0.8"/>
<text transform="translate(131.1,310.9) scale(1,0.76) rotate(-45)" font-size="5.5" font-weight="bold" text-anchor="end" fill="#222" stroke="#222" stroke-width="0.3">OAC ML1</text>
<polyline points="35.4,299.3 35.4,294 47.16,294 47.16,300" fill="none" stroke="#333333" stroke-width="0.95"/>
<text transform="translate(41.28,291.3) scale(1,0.76)" font-size="5.9" text-anchor="middle" fill="#222" stroke="#222" stroke-width="0.2">ns</text>
<polyline points="35.4,284.9 35.4,282.1 58.92,282.1 58.92,300" fill="none" stroke="#333333" stroke-width="0.95"/>
<text transform="translate(47.16,279.4) scale(1,0.76)" font-size="5.9" text-anchor="middle" fill="#222" stroke="#222" stroke-width="0.2">ns</text>
<polyline points="35.4,278.5 35.4,270.5 70.69,270.5 70.69,297.4" fill="none" stroke="#333333" stroke-width="0.95"/>
<ellipse cx="46.29" cy="266.6" rx="1.45" ry="1.2" fill="#111"/>
<ellipse cx="50.79" cy="266.6" rx="1.45" ry="1.2" fill="#111"/>
<ellipse cx="55.29" cy="266.6" rx="1.45" ry="1.2" fill="#111"/>
<ellipse cx="59.79" cy="266.6" rx="1.45" ry="1.2" fill="#111"/>
<polyline points="35.4,266.2 35.4,258.2 82.45,258.2 82.45,299.1" fill="none" stroke="#333333" stroke-width="0.95"/>
<ellipse cx="56.67" cy="254.3" rx="1.45" ry="1.2" fill="#111"/>
<ellipse cx="61.17" cy="254.3" rx="1.45" ry="1.2" fill="#111"/>
<polyline points="35.4,254.7 35.4,246.7 94.21,246.7 94.21,301.2" fill="none" stroke="#333333" stroke-width="0.95"/>
<text transform="translate(64.81,244) scale(1,0.76)" font-size="5.9" text-anchor="middle" fill="#222" stroke="#222" stroke-width="0.2">ns</text>
<polyline points="35.4,242.9 35.4,234.9 105.97,234.9 105.97,302.3" fill="none" stroke="#333333" stroke-width="0.95"/>
<text transform="translate(70.69,232.2) scale(1,0.76)" font-size="5.9" text-anchor="middle" fill="#222" stroke="#222" stroke-width="0.2">ns</text>
<polyline points="35.4,230.8 35.4,222.8 117.74,222.8 117.74,302.3" fill="none" stroke="#333333" stroke-width="0.95"/>
<text transform="translate(76.57,220.1) scale(1,0.76)" font-size="5.9" text-anchor="middle" fill="#222" stroke="#222" stroke-width="0.2">ns</text>
<polyline points="35.4,218.6 35.4,210.6 129.5,210.6 129.5,302.3" fill="none" stroke="#333333" stroke-width="0.95"/>
<text transform="translate(82.45,207.9) scale(1,0.76)" font-size="5.9" text-anchor="middle" fill="#222" stroke="#222" stroke-width="0.2">ns</text>
<g fill="#0000ff" stroke="#0000ff">
<rect x="31.4" y="301.9" width="8" height="2.8" rx="1.4" stroke="none"/><circle cx="34.6" cy="302.1" r="1.0" stroke="none"/><circle cx="37" cy="302.3" r="0.9" stroke="none"/>
</g>
<g fill="#ff0000" stroke="#ff0000">
<rect x="43.16" y="301.9" width="8" height="2.8" rx="1.4" stroke="none"/><circle cx="46.36" cy="302.1" r="1.0" stroke="none"/><circle cx="48.76" cy="302.3" r="0.9" stroke="none"/>
</g>
<g fill="#00b400" stroke="#00b400">
<rect x="54.92" y="302.1" width="8" height="2.8" rx="1.4" stroke="none"/><circle cx="58.12" cy="302.3" r="1.0" stroke="none"/><circle cx="60.52" cy="302.5" r="0.9" stroke="none"/>
</g>
<g fill="#e21ee2" stroke="#e21ee2">
<rect x="66.69" y="300.2" width="8" height="2.8" rx="1.4" stroke="none"/><circle cx="69.89" cy="300.4" r="1.0" stroke="none"/><circle cx="72.29" cy="300.6" r="0.9" stroke="none"/>
</g>
<g fill="#ff8000" stroke="#ff8000">
<rect x="78.45" y="301.3" width="8" height="2.8" rx="1.4" stroke="none"/><circle cx="81.65" cy="301.5" r="1.0" stroke="none"/><circle cx="84.05" cy="301.7" r="0.9" stroke="none"/>
</g>
<g fill="#000000" stroke="#000000">
<rect x="90.21" y="302.5" width="8" height="2.8" rx="1.4" stroke="none"/><circle cx="93.41" cy="302.7" r="1.0" stroke="none"/><circle cx="95.81" cy="302.9" r="0.9" stroke="none"/>
</g>
<g fill="#c07820" stroke="#c07820">
<rect x="101.97" y="302.6" width="8" height="2.8" rx="1.4" stroke="none"/><circle cx="105.17" cy="302.8" r="1.0" stroke="none"/><circle cx="107.57" cy="303" r="0.9" stroke="none"/>
</g>
<g fill="#00009c" stroke="#00009c">
<rect x="113.74" y="302.4" width="8" height="2.8" rx="1.4" stroke="none"/><circle cx="116.94" cy="302.6" r="1.0" stroke="none"/><circle cx="119.34" cy="302.8" r="0.9" stroke="none"/>
</g>
<g fill="#80005a" stroke="#80005a">
<rect x="125.5" y="302.1" width="8" height="2.8" rx="1.4" stroke="none"/><circle cx="128.7" cy="302.3" r="1.0" stroke="none"/><circle cx="131.1" cy="302.5" r="0.9" stroke="none"/>
</g>
<text transform="translate(147.5,182.3) scale(1.08,0.92)" font-size="11" font-weight="bold" fill="#111" stroke="#111" stroke-width="0.55">F</text>
<text transform="translate(215.6,175.9) scale(1,0.84)" font-size="6.8" font-weight="bold" text-anchor="middle" fill="#111" stroke="#111" stroke-width="0.4">NEK6</text>
<line x1="165.1" y1="250.3" x2="165.1" y2="274.8" stroke="#2a2a2a" stroke-width="1"/>
<line x1="165.1" y1="279" x2="165.1" y2="304.6" stroke="#2a2a2a" stroke-width="1"/>
<line x1="163.1" y1="274.8" x2="167.1" y2="274.8" stroke="#2a2a2a" stroke-width="0.9"/>
<line x1="163.1" y1="279" x2="167.1" y2="279" stroke="#2a2a2a" stroke-width="0.9"/>
<line x1="162.1" y1="304.6" x2="165.1" y2="304.6" stroke="#2a2a2a" stroke-width="0.9"/>
<text transform="translate(160.8,306.2) scale(1,0.76)" font-size="4.9" font-weight="bold" text-anchor="end" fill="#222" stroke="#222" stroke-width="0.35">0.0</text>
<line x1="162.1" y1="295.6" x2="165.1" y2="295.6" stroke="#2a2a2a" stroke-width="0.9"/>
<text transform="translate(160.8,297.2) scale(1,0.76)" font-size="4.9" font-weight="bold" text-anchor="end" fill="#222" stroke="#222" stroke-width="0.35">0.2</text>
<line x1="162.1" y1="287.3" x2="165.1" y2="287.3" stroke="#2a2a2a" stroke-width="0.9"/>
<text transform="translate(160.8,288.9) scale(1,0.76)" font-size="4.9" font-weight="bold" text-anchor="end" fill="#222" stroke="#222" stroke-width="0.35">0.4</text>
<line x1="162.1" y1="279.5" x2="165.1" y2="279.5" stroke="#2a2a2a" stroke-width="0.9"/>
<text transform="translate(160.8,281.1) scale(1,0.76)" font-size="4.9" font-weight="bold" text-anchor="end" fill="#222" stroke="#222" stroke-width="0.35">0.6</text>
<line x1="162.1" y1="272.2" x2="165.1" y2="272.2" stroke="#2a2a2a" stroke-width="0.9"/>
<text transform="translate(160.8,273.8) scale(1,0.76)" font-size="4.9" font-weight="bold" text-anchor="end" fill="#222" stroke="#222" stroke-width="0.35">1</text>
<line x1="162.1" y1="264.9" x2="165.1" y2="264.9" stroke="#2a2a2a" stroke-width="0.9"/>
<text transform="translate(160.8,266.5) scale(1,0.76)" font-size="4.9" font-weight="bold" text-anchor="end" fill="#222" stroke="#222" stroke-width="0.35">2</text>
<line x1="162.1" y1="257.6" x2="165.1" y2="257.6" stroke="#2a2a2a" stroke-width="0.9"/>
<text transform="translate(160.8,259.2) scale(1,0.76)" font-size="4.9" font-weight="bold" text-anchor="end" fill="#222" stroke="#222" stroke-width="0.35">3</text>
<line x1="162.1" y1="250.3" x2="165.1" y2="250.3" stroke="#2a2a2a" stroke-width="0.9"/>
<text transform="translate(160.8,251.9) scale(1,0.76)" font-size="4.9" font-weight="bold" text-anchor="end" fill="#222" stroke="#222" stroke-width="0.35">4</text>
<text transform="translate(151.4,277.5) scale(1,0.76) rotate(-90)" font-size="6.2" font-weight="bold" text-anchor="middle" fill="#111" stroke="#111" stroke-width="0.4">Relative gene expression fold</text>
<line x1="164.6" y1="304.3" x2="272.3" y2="304.3" stroke="#2a2a2a" stroke-width="1"/>
<line x1="173.4" y1="304.3" x2="173.4" y2="306.6" stroke="#2a2a2a" stroke-width="0.8"/>
<text transform="translate(175,310.9) scale(1,0.76) rotate(-45)" font-size="5.5" font-weight="bold" text-anchor="end" fill="#222" stroke="#222" stroke-width="0.3">HEEC</text>
<line x1="184.68" y1="304.3" x2="184.68" y2="306.6" stroke="#2a2a2a" stroke-width="0.8"/>
<text transform="translate(186.28,310.9) scale(1,0.76) rotate(-45)" font-size="5.5" font-weight="bold" text-anchor="end" fill="#222" stroke="#222" stroke-width="0.3">BAR-T</text>
<line x1="195.95" y1="304.3" x2="195.95" y2="306.6" stroke="#2a2a2a" stroke-width="0.8"/>
<text transform="translate(197.55,310.9) scale(1,0.76) rotate(-45)" font-size="5.5" font-weight="bold" text-anchor="end" fill="#222" stroke="#222" stroke-width="0.3">CPA</text>
<line x1="207.23" y1="304.3" x2="207.23" y2="306.6" stroke="#2a2a2a" stroke-width="0.8"/>
<text transform="translate(208.83,310.9) scale(1,0.76) rotate(-45)" font-size="5.5" font-weight="bold" text-anchor="end" fill="#222" stroke="#222" stroke-width="0.3">CPB</text>
<line x1="218.5" y1="304.3" x2="218.5" y2="306.6" stroke="#2a2a2a" stroke-width="0.8"/>
<text transform="translate(220.1,310.9) scale(1,0.76) rotate(-45)" font-size="5.5" font-weight="bold" text-anchor="end" fill="#222" stroke="#222" stroke-width="0.3">FLO1</text>
<line x1="229.78" y1="304.3" x2="229.78" y2="306.6" stroke="#2a2a2a" stroke-width="0.8"/>
<text transform="translate(231.38,310.9) scale(1,0.76) rotate(-45)" font-size="5.5" font-weight="bold" text-anchor="end" fill="#222" stroke="#222" stroke-width="0.3">OE19</text>
<line x1="241.05" y1="304.3" x2="241.05" y2="306.6" stroke="#2a2a2a" stroke-width="0.8"/>
<text transform="translate(242.65,310.9) scale(1,0.76) rotate(-45)" font-size="5.5" font-weight="bold" text-anchor="end" fill="#222" stroke="#222" stroke-width="0.3">OE33</text>
<line x1="252.33" y1="304.3" x2="252.33" y2="306.6" stroke="#2a2a2a" stroke-width="0.8"/>
<text transform="translate(253.93,310.9) scale(1,0.76) rotate(-45)" font-size="5.5" font-weight="bold" text-anchor="end" fill="#222" stroke="#222" stroke-width="0.3">SKGT4</text>
<line x1="263.6" y1="304.3" x2="263.6" y2="306.6" stroke="#2a2a2a" stroke-width="0.8"/>
<text transform="translate(265.2,310.9) scale(1,0.76) rotate(-45)" font-size="5.5" font-weight="bold" text-anchor="end" fill="#222" stroke="#222" stroke-width="0.3">OAC ML1</text>
<polyline points="173.4,270.7 173.4,261.4 184.68,261.4 184.68,267" fill="none" stroke="#333333" stroke-width="0.95"/>
<text transform="translate(179.04,258.7) scale(1,0.76)" font-size="5.9" text-anchor="middle" fill="#222" stroke="#222" stroke-width="0.2">ns</text>
<polyline points="173.4,254.8 173.4,251.8 195.95,251.8 195.95,266" fill="none" stroke="#333333" stroke-width="0.95"/>
<text transform="translate(184.68,249.1) scale(1,0.76)" font-size="5.9" text-anchor="middle" fill="#222" stroke="#222" stroke-width="0.2">ns</text>
<polyline points="173.4,244.9 173.4,241.9 207.23,241.9 207.23,258.3" fill="none" stroke="#333333" stroke-width="0.95"/>
<ellipse cx="183.56" cy="238" rx="1.45" ry="1.2" fill="#111"/>
<ellipse cx="188.06" cy="238" rx="1.45" ry="1.2" fill="#111"/>
<ellipse cx="192.56" cy="238" rx="1.45" ry="1.2" fill="#111"/>
<ellipse cx="197.06" cy="238" rx="1.45" ry="1.2" fill="#111"/>
<polyline points="173.4,235.5 173.4,232.5 218.5,232.5 218.5,270.8" fill="none" stroke="#333333" stroke-width="0.95"/>
<text transform="translate(195.95,229.8) scale(1,0.76)" font-size="5.9" text-anchor="middle" fill="#222" stroke="#222" stroke-width="0.2">ns</text>
<polyline points="173.4,224.3 173.4,221.3 229.78,221.3 229.78,251" fill="none" stroke="#333333" stroke-width="0.95"/>
<ellipse cx="194.84" cy="217.4" rx="1.45" ry="1.2" fill="#111"/>
<ellipse cx="199.34" cy="217.4" rx="1.45" ry="1.2" fill="#111"/>
<ellipse cx="203.84" cy="217.4" rx="1.45" ry="1.2" fill="#111"/>
<ellipse cx="208.34" cy="217.4" rx="1.45" ry="1.2" fill="#111"/>
<polyline points="173.4,212.7 173.4,209.7 241.05,209.7 241.05,288.6" fill="none" stroke="#333333" stroke-width="0.95"/>
<text transform="translate(207.23,207) scale(1,0.76)" font-size="5.9" text-anchor="middle" fill="#222" stroke="#222" stroke-width="0.2">ns</text>
<polyline points="173.4,201.8 173.4,198.8 252.33,198.8 252.33,283.4" fill="none" stroke="#333333" stroke-width="0.95"/>
<text transform="translate(212.86,196.1) scale(1,0.76)" font-size="5.9" text-anchor="middle" fill="#222" stroke="#222" stroke-width="0.2">ns</text>
<polyline points="173.4,190.8 173.4,187.8 263.6,187.8 263.6,294.9" fill="none" stroke="#333333" stroke-width="0.95"/>
<ellipse cx="218.5" cy="183.9" rx="1.45" ry="1.2" fill="#111"/>
<g fill="#0000ff" stroke="#0000ff">
<rect x="169.4" y="273.3" width="8" height="2.8" rx="1.4" stroke="none"/><circle cx="172.6" cy="273.5" r="1.0" stroke="none"/><circle cx="175" cy="273.7" r="0.9" stroke="none"/>
</g>
<g fill="#ff0000" stroke="#ff0000">
<rect x="180.43" y="270.1" width="8.5" height="4.2" rx="1.4" stroke="none"/><circle cx="183.88" cy="270.3" r="1.0" stroke="none"/><circle cx="186.28" cy="270.5" r="0.9" stroke="none"/>
</g>
<g fill="#00b400" stroke="#00b400">
<rect x="191.95" y="269.8" width="8" height="2.8" rx="1.4" stroke="none"/><circle cx="195.15" cy="270" r="1.0" stroke="none"/><circle cx="197.55" cy="270.2" r="0.9" stroke="none"/>
</g>
<g fill="#e21ee2" stroke="#e21ee2">
<rect x="203.23" y="261.4" width="8" height="3.4" rx="1.4" stroke="none"/><circle cx="206.43" cy="261.6" r="1.0" stroke="none"/><circle cx="208.83" cy="261.8" r="0.9" stroke="none"/>
</g>
<g fill="#ff8000" stroke="#ff8000">
<rect x="214.5" y="272.6" width="8" height="2.8" rx="1.4" stroke="none"/><circle cx="217.7" cy="272.8" r="1.0" stroke="none"/><circle cx="220.1" cy="273" r="0.9" stroke="none"/>
</g>
<g fill="#000000" stroke="#000000">
<line x1="229.78" y1="254.7" x2="229.78" y2="263.1" stroke-width="1.1"/><line x1="228.28" y1="254.7" x2="231.28" y2="254.7" stroke-width="1.1"/><line x1="228.28" y1="263.1" x2="231.28" y2="263.1" stroke-width="1.1"/><line x1="225.78" y1="258.9" x2="233.78" y2="258.9" stroke-width="1.9"/><circle cx="229.78" cy="254.9" r="1.7" stroke="none"/><circle cx="229.78" cy="262.9" r="1.7" stroke="none"/>
</g>
<g fill="#c07820" stroke="#c07820">
<rect x="237.55" y="290.5" width="7" height="3.8" rx="1.4" stroke="none"/><circle cx="240.25" cy="290.7" r="1.0" stroke="none"/><circle cx="242.65" cy="290.9" r="0.9" stroke="none"/>
</g>
<g fill="#00009c" stroke="#00009c">
<rect x="248.83" y="284.2" width="7" height="4.6" rx="1.4" stroke="none"/><circle cx="251.53" cy="284.4" r="1.0" stroke="none"/><circle cx="253.93" cy="284.6" r="0.9" stroke="none"/>
</g>
<g fill="#80005a" stroke="#80005a">
<rect x="259.6" y="297.2" width="8" height="3.8" rx="1.4" stroke="none"/><circle cx="262.8" cy="297.4" r="1.0" stroke="none"/><circle cx="265.2" cy="297.6" r="0.9" stroke="none"/>
</g>
<text transform="translate(280.9,182.3) scale(1.08,0.92)" font-size="11" font-weight="bold" fill="#111" stroke="#111" stroke-width="0.55">G</text>
<text transform="translate(353,177.9) scale(1,0.84)" font-size="6.8" font-weight="bold" text-anchor="middle" fill="#111" stroke="#111" stroke-width="0.4">NEK7</text>
<line x1="299.7" y1="252.4" x2="299.7" y2="275" stroke="#2a2a2a" stroke-width="1"/>
<line x1="299.7" y1="279.2" x2="299.7" y2="305" stroke="#2a2a2a" stroke-width="1"/>
<line x1="297.7" y1="275" x2="301.7" y2="275" stroke="#2a2a2a" stroke-width="0.9"/>
<line x1="297.7" y1="279.2" x2="301.7" y2="279.2" stroke="#2a2a2a" stroke-width="0.9"/>
<line x1="296.7" y1="305" x2="299.7" y2="305" stroke="#2a2a2a" stroke-width="0.9"/>
<text transform="translate(295.4,306.6) scale(1,0.76)" font-size="4.9" font-weight="bold" text-anchor="end" fill="#222" stroke="#222" stroke-width="0.35">0.0</text>
<line x1="296.7" y1="296.3" x2="299.7" y2="296.3" stroke="#2a2a2a" stroke-width="0.9"/>
<text transform="translate(295.4,297.9) scale(1,0.76)" font-size="4.9" font-weight="bold" text-anchor="end" fill="#222" stroke="#222" stroke-width="0.35">0.2</text>
<line x1="296.7" y1="287.9" x2="299.7" y2="287.9" stroke="#2a2a2a" stroke-width="0.9"/>
<text transform="translate(295.4,289.5) scale(1,0.76)" font-size="4.9" font-weight="bold" text-anchor="end" fill="#222" stroke="#222" stroke-width="0.35">0.4</text>
<line x1="296.7" y1="279.5" x2="299.7" y2="279.5" stroke="#2a2a2a" stroke-width="0.9"/>
<text transform="translate(295.4,281.1) scale(1,0.76)" font-size="4.9" font-weight="bold" text-anchor="end" fill="#222" stroke="#222" stroke-width="0.35">0.6</text>
<line x1="296.7" y1="270.1" x2="299.7" y2="270.1" stroke="#2a2a2a" stroke-width="0.9"/>
<text transform="translate(295.4,271.7) scale(1,0.76)" font-size="4.9" font-weight="bold" text-anchor="end" fill="#222" stroke="#222" stroke-width="0.35">0.8</text>
<line x1="296.7" y1="264.3" x2="299.7" y2="264.3" stroke="#2a2a2a" stroke-width="0.9"/>
<text transform="translate(295.4,265.9) scale(1,0.76)" font-size="4.9" font-weight="bold" text-anchor="end" fill="#222" stroke="#222" stroke-width="0.35">1.0</text>
<line x1="296.7" y1="258.2" x2="299.7" y2="258.2" stroke="#2a2a2a" stroke-width="0.9"/>
<text transform="translate(295.4,259.8) scale(1,0.76)" font-size="4.9" font-weight="bold" text-anchor="end" fill="#222" stroke="#222" stroke-width="0.35">1.2</text>
<line x1="296.7" y1="252.4" x2="299.7" y2="252.4" stroke="#2a2a2a" stroke-width="0.9"/>
<text transform="translate(295.4,254) scale(1,0.76)" font-size="4.9" font-weight="bold" text-anchor="end" fill="#222" stroke="#222" stroke-width="0.35">1.4</text>
<text transform="translate(285.4,278.7) scale(1,0.76) rotate(-90)" font-size="6.2" font-weight="bold" text-anchor="middle" fill="#111" stroke="#111" stroke-width="0.4">Relative gene expression fold</text>
<line x1="299.2" y1="304.3" x2="407.3" y2="304.3" stroke="#2a2a2a" stroke-width="1"/>
<line x1="305.9" y1="304.3" x2="305.9" y2="306.6" stroke="#2a2a2a" stroke-width="0.8"/>
<text transform="translate(307.5,310.9) scale(1,0.76) rotate(-45)" font-size="5.5" font-weight="bold" text-anchor="end" fill="#222" stroke="#222" stroke-width="0.3">HEEC</text>
<line x1="317.49" y1="304.3" x2="317.49" y2="306.6" stroke="#2a2a2a" stroke-width="0.8"/>
<text transform="translate(319.09,310.9) scale(1,0.76) rotate(-45)" font-size="5.5" font-weight="bold" text-anchor="end" fill="#222" stroke="#222" stroke-width="0.3">BAR-T</text>
<line x1="329.07" y1="304.3" x2="329.07" y2="306.6" stroke="#2a2a2a" stroke-width="0.8"/>
<text transform="translate(330.68,310.9) scale(1,0.76) rotate(-45)" font-size="5.5" font-weight="bold" text-anchor="end" fill="#222" stroke="#222" stroke-width="0.3">CPA</text>
<line x1="340.66" y1="304.3" x2="340.66" y2="306.6" stroke="#2a2a2a" stroke-width="0.8"/>
<text transform="translate(342.26,310.9) scale(1,0.76) rotate(-45)" font-size="5.5" font-weight="bold" text-anchor="end" fill="#222" stroke="#222" stroke-width="0.3">CPB</text>
<line x1="352.25" y1="304.3" x2="352.25" y2="306.6" stroke="#2a2a2a" stroke-width="0.8"/>
<text transform="translate(353.85,310.9) scale(1,0.76) rotate(-45)" font-size="5.5" font-weight="bold" text-anchor="end" fill="#222" stroke="#222" stroke-width="0.3">FLO1</text>
<line x1="363.84" y1="304.3" x2="363.84" y2="306.6" stroke="#2a2a2a" stroke-width="0.8"/>
<text transform="translate(365.44,310.9) scale(1,0.76) rotate(-45)" font-size="5.5" font-weight="bold" text-anchor="end" fill="#222" stroke="#222" stroke-width="0.3">OE19</text>
<line x1="375.43" y1="304.3" x2="375.43" y2="306.6" stroke="#2a2a2a" stroke-width="0.8"/>
<text transform="translate(377.03,310.9) scale(1,0.76) rotate(-45)" font-size="5.5" font-weight="bold" text-anchor="end" fill="#222" stroke="#222" stroke-width="0.3">OE33</text>
<line x1="387.01" y1="304.3" x2="387.01" y2="306.6" stroke="#2a2a2a" stroke-width="0.8"/>
<text transform="translate(388.61,310.9) scale(1,0.76) rotate(-45)" font-size="5.5" font-weight="bold" text-anchor="end" fill="#222" stroke="#222" stroke-width="0.3">SKGT4</text>
<line x1="398.6" y1="304.3" x2="398.6" y2="306.6" stroke="#2a2a2a" stroke-width="0.8"/>
<text transform="translate(400.2,310.9) scale(1,0.76) rotate(-45)" font-size="5.5" font-weight="bold" text-anchor="end" fill="#222" stroke="#222" stroke-width="0.3">OAC ML1</text>
<polyline points="305.9,278.7 305.9,272 317.49,272 317.49,285" fill="none" stroke="#333333" stroke-width="0.95"/>
<ellipse cx="311.69" cy="268.1" rx="1.45" ry="1.2" fill="#111"/>
<polyline points="305.9,256.1 305.9,253.6 329.07,253.6 329.07,259" fill="none" stroke="#333333" stroke-width="0.95"/>
<ellipse cx="310.74" cy="249.7" rx="1.45" ry="1.2" fill="#111"/>
<ellipse cx="315.24" cy="249.7" rx="1.45" ry="1.2" fill="#111"/>
<ellipse cx="319.74" cy="249.7" rx="1.45" ry="1.2" fill="#111"/>
<ellipse cx="324.24" cy="249.7" rx="1.45" ry="1.2" fill="#111"/>
<polyline points="305.9,245.3 305.9,242.8 340.66,242.8 340.66,285.5" fill="none" stroke="#333333" stroke-width="0.95"/>
<ellipse cx="321.03" cy="238.9" rx="1.45" ry="1.2" fill="#111"/>
<ellipse cx="325.53" cy="238.9" rx="1.45" ry="1.2" fill="#111"/>
<polyline points="305.9,234.3 305.9,231.8 352.25,231.8 352.25,294.9" fill="none" stroke="#333333" stroke-width="0.95"/>
<ellipse cx="322.32" cy="227.9" rx="1.45" ry="1.2" fill="#111"/>
<ellipse cx="326.82" cy="227.9" rx="1.45" ry="1.2" fill="#111"/>
<ellipse cx="331.32" cy="227.9" rx="1.45" ry="1.2" fill="#111"/>
<ellipse cx="335.82" cy="227.9" rx="1.45" ry="1.2" fill="#111"/>
<polyline points="305.9,223.5 305.9,221 363.84,221 363.84,276.5" fill="none" stroke="#333333" stroke-width="0.95"/>
<text transform="translate(334.87,218.3) scale(1,0.76)" font-size="5.9" text-anchor="middle" fill="#222" stroke="#222" stroke-width="0.2">ns</text>
<polyline points="305.9,212.5 305.9,210 375.43,210 375.43,296" fill="none" stroke="#333333" stroke-width="0.95"/>
<ellipse cx="333.91" cy="206.1" rx="1.45" ry="1.2" fill="#111"/>
<ellipse cx="338.41" cy="206.1" rx="1.45" ry="1.2" fill="#111"/>
<ellipse cx="342.91" cy="206.1" rx="1.45" ry="1.2" fill="#111"/>
<ellipse cx="347.41" cy="206.1" rx="1.45" ry="1.2" fill="#111"/>
<polyline points="305.9,202.3 305.9,199.8 387.01,199.8 387.01,261.4" fill="none" stroke="#333333" stroke-width="0.95"/>
<ellipse cx="339.71" cy="195.9" rx="1.45" ry="1.2" fill="#111"/>
<ellipse cx="344.21" cy="195.9" rx="1.45" ry="1.2" fill="#111"/>
<ellipse cx="348.71" cy="195.9" rx="1.45" ry="1.2" fill="#111"/>
<ellipse cx="353.21" cy="195.9" rx="1.45" ry="1.2" fill="#111"/>
<polyline points="305.9,192.1 305.9,189.6 398.6,189.6 398.6,293.9" fill="none" stroke="#333333" stroke-width="0.95"/>
<ellipse cx="345.5" cy="185.7" rx="1.45" ry="1.2" fill="#111"/>
<ellipse cx="350" cy="185.7" rx="1.45" ry="1.2" fill="#111"/>
<ellipse cx="354.5" cy="185.7" rx="1.45" ry="1.2" fill="#111"/>
<ellipse cx="359" cy="185.7" rx="1.45" ry="1.2" fill="#111"/>
<g fill="#0000ff" stroke="#0000ff">
<rect x="301.9" y="281.4" width="8" height="2.6" rx="1.3" stroke="none"/><circle cx="305.1" cy="281.6" r="1.0" stroke="none"/><circle cx="307.5" cy="281.8" r="0.9" stroke="none"/><polygon points="301.9,283.7 309.9,283.7 305.9,280.4" stroke="none"/>
</g>
<g fill="#ff0000" stroke="#ff0000">
<rect x="313.49" y="288.5" width="8" height="3" rx="1.4" stroke="none"/><circle cx="316.69" cy="288.7" r="1.0" stroke="none"/><circle cx="319.09" cy="288.9" r="0.9" stroke="none"/>
</g>
<g fill="#00b400" stroke="#00b400">
<line x1="329.07" y1="261.4" x2="329.07" y2="272" stroke-width="1.1"/><line x1="327.47" y1="261.4" x2="330.68" y2="261.4" stroke-width="1.1"/><line x1="327.47" y1="272" x2="330.68" y2="272" stroke-width="1.1"/><line x1="325.07" y1="267" x2="333.07" y2="267" stroke-width="1.6"/><circle cx="329.07" cy="261.6" r="1.4" stroke="none"/><circle cx="329.07" cy="271.8" r="1.4" stroke="none"/>
</g>
<g fill="#e21ee2" stroke="#e21ee2">
<line x1="340.66" y1="288" x2="340.66" y2="292" stroke-width="1.1"/><line x1="338.86" y1="288" x2="342.46" y2="288" stroke-width="1.1"/><line x1="338.86" y1="292" x2="342.46" y2="292" stroke-width="1.1"/><line x1="336.91" y1="291.2" x2="344.41" y2="291.2" stroke-width="2"/>
</g>
<g fill="#ff8000" stroke="#ff8000">
<rect x="348.25" y="296.6" width="8" height="2.8" rx="1.4" stroke="none"/><circle cx="351.45" cy="296.8" r="1.0" stroke="none"/><circle cx="353.85" cy="297" r="0.9" stroke="none"/>
</g>
<g fill="#000000" stroke="#000000">
<rect x="359.59" y="279.2" width="8.5" height="2.8" rx="1.4" stroke="none"/><circle cx="361.54" cy="279.4" r="1.5" stroke="none"/><circle cx="366.14" cy="279.4" r="1.5" stroke="none"/><polygon points="360.64,279.8 367.04,279.8 364.64,284.1 363.04,284.1" stroke="none"/>
</g>
<g fill="#c07820" stroke="#c07820">
<rect x="371.43" y="298.8" width="8" height="2.8" rx="1.4" stroke="none"/><circle cx="374.62" cy="299" r="1.0" stroke="none"/><circle cx="377.03" cy="299.2" r="0.9" stroke="none"/>
</g>
<g fill="#00009c" stroke="#00009c">
<line x1="387.01" y1="263.5" x2="387.01" y2="267.3" stroke-width="1.1"/><line x1="385.21" y1="263.5" x2="388.81" y2="263.5" stroke-width="1.1"/><line x1="385.21" y1="267.3" x2="388.81" y2="267.3" stroke-width="1.1"/><line x1="383.01" y1="266.6" x2="391.01" y2="266.6" stroke-width="2"/>
</g>
<g fill="#80005a" stroke="#80005a">
<rect x="394.6" y="296.6" width="8" height="2.8" rx="1.4" stroke="none"/><circle cx="397.8" cy="296.8" r="1.0" stroke="none"/><circle cx="400.2" cy="297" r="0.9" stroke="none"/>
</g>
<text transform="translate(418,182.5) scale(1.08,0.92)" font-size="11" font-weight="bold" fill="#111" stroke="#111" stroke-width="0.55">H</text>
<text transform="translate(492.6,180.1) scale(1,0.84)" font-size="6.8" font-weight="bold" text-anchor="middle" fill="#111" stroke="#111" stroke-width="0.4">NEK8</text>
<line x1="437.2" y1="248.8" x2="437.2" y2="304.2" stroke="#2a2a2a" stroke-width="1"/>
<line x1="434.2" y1="304.2" x2="437.2" y2="304.2" stroke="#2a2a2a" stroke-width="0.9"/>
<text transform="translate(432.9,305.8) scale(1,0.76)" font-size="4.9" font-weight="bold" text-anchor="end" fill="#222" stroke="#222" stroke-width="0.35">0.0</text>
<line x1="434.2" y1="285.8" x2="437.2" y2="285.8" stroke="#2a2a2a" stroke-width="0.9"/>
<text transform="translate(432.9,287.4) scale(1,0.76)" font-size="4.9" font-weight="bold" text-anchor="end" fill="#222" stroke="#222" stroke-width="0.35">0.2</text>
<line x1="434.2" y1="267.4" x2="437.2" y2="267.4" stroke="#2a2a2a" stroke-width="0.9"/>
<text transform="translate(432.9,269) scale(1,0.76)" font-size="4.9" font-weight="bold" text-anchor="end" fill="#222" stroke="#222" stroke-width="0.35">0.4</text>
<line x1="434.2" y1="248.8" x2="437.2" y2="248.8" stroke="#2a2a2a" stroke-width="0.9"/>
<text transform="translate(432.9,250.4) scale(1,0.76)" font-size="4.9" font-weight="bold" text-anchor="end" fill="#222" stroke="#222" stroke-width="0.35">0.6</text>
<text transform="translate(422.4,276.5) scale(1,0.76) rotate(-90)" font-size="6.2" font-weight="bold" text-anchor="middle" fill="#111" stroke="#111" stroke-width="0.4">Relative gene expression fold</text>
<line x1="436.7" y1="304.3" x2="548.5" y2="304.3" stroke="#2a2a2a" stroke-width="1"/>
<line x1="445.1" y1="304.3" x2="445.1" y2="306.6" stroke="#2a2a2a" stroke-width="0.8"/>
<text transform="translate(446.7,310.9) scale(1,0.76) rotate(-45)" font-size="5.5" font-weight="bold" text-anchor="end" fill="#222" stroke="#222" stroke-width="0.3">HEEC</text>
<line x1="456.9" y1="304.3" x2="456.9" y2="306.6" stroke="#2a2a2a" stroke-width="0.8"/>
<text transform="translate(458.5,310.9) scale(1,0.76) rotate(-45)" font-size="5.5" font-weight="bold" text-anchor="end" fill="#222" stroke="#222" stroke-width="0.3">BAR-T</text>
<line x1="468.7" y1="304.3" x2="468.7" y2="306.6" stroke="#2a2a2a" stroke-width="0.8"/>
<text transform="translate(470.3,310.9) scale(1,0.76) rotate(-45)" font-size="5.5" font-weight="bold" text-anchor="end" fill="#222" stroke="#222" stroke-width="0.3">CPA</text>
<line x1="480.5" y1="304.3" x2="480.5" y2="306.6" stroke="#2a2a2a" stroke-width="0.8"/>
<text transform="translate(482.1,310.9) scale(1,0.76) rotate(-45)" font-size="5.5" font-weight="bold" text-anchor="end" fill="#222" stroke="#222" stroke-width="0.3">CPB</text>
<line x1="492.3" y1="304.3" x2="492.3" y2="306.6" stroke="#2a2a2a" stroke-width="0.8"/>
<text transform="translate(493.9,310.9) scale(1,0.76) rotate(-45)" font-size="5.5" font-weight="bold" text-anchor="end" fill="#222" stroke="#222" stroke-width="0.3">FLO1</text>
<line x1="504.1" y1="304.3" x2="504.1" y2="306.6" stroke="#2a2a2a" stroke-width="0.8"/>
<text transform="translate(505.7,310.9) scale(1,0.76) rotate(-45)" font-size="5.5" font-weight="bold" text-anchor="end" fill="#222" stroke="#222" stroke-width="0.3">OE19</text>
<line x1="515.9" y1="304.3" x2="515.9" y2="306.6" stroke="#2a2a2a" stroke-width="0.8"/>
<text transform="translate(517.5,310.9) scale(1,0.76) rotate(-45)" font-size="5.5" font-weight="bold" text-anchor="end" fill="#222" stroke="#222" stroke-width="0.3">OE33</text>
<line x1="527.7" y1="304.3" x2="527.7" y2="306.6" stroke="#2a2a2a" stroke-width="0.8"/>
<text transform="translate(529.3,310.9) scale(1,0.76) rotate(-45)" font-size="5.5" font-weight="bold" text-anchor="end" fill="#222" stroke="#222" stroke-width="0.3">SKGT4</text>
<line x1="539.5" y1="304.3" x2="539.5" y2="306.6" stroke="#2a2a2a" stroke-width="0.8"/>
<text transform="translate(541.1,310.9) scale(1,0.76) rotate(-45)" font-size="5.5" font-weight="bold" text-anchor="end" fill="#222" stroke="#222" stroke-width="0.3">OAC ML1</text>
<polyline points="445.1,297.5 445.1,291.7 456.9,291.7 456.9,299" fill="none" stroke="#333333" stroke-width="0.95"/>
<ellipse cx="446.5" cy="287.8" rx="1.45" ry="1.2" fill="#111"/>
<ellipse cx="451" cy="287.8" rx="1.45" ry="1.2" fill="#111"/>
<ellipse cx="455.5" cy="287.8" rx="1.45" ry="1.2" fill="#111"/>
<polyline points="445.1,282.5 445.1,280 468.7,280 468.7,295.5" fill="none" stroke="#333333" stroke-width="0.95"/>
<ellipse cx="450.15" cy="276.1" rx="1.45" ry="1.2" fill="#111"/>
<ellipse cx="454.65" cy="276.1" rx="1.45" ry="1.2" fill="#111"/>
<ellipse cx="459.15" cy="276.1" rx="1.45" ry="1.2" fill="#111"/>
<ellipse cx="463.65" cy="276.1" rx="1.45" ry="1.2" fill="#111"/>
<polyline points="445.1,271 445.1,268.5 480.5,268.5 480.5,298" fill="none" stroke="#333333" stroke-width="0.95"/>
<text transform="translate(462.8,265.8) scale(1,0.76)" font-size="5.9" text-anchor="middle" fill="#222" stroke="#222" stroke-width="0.2">ns</text>
<polyline points="445.1,264.6 445.1,256.6 492.3,256.6 492.3,298" fill="none" stroke="#333333" stroke-width="0.95"/>
<ellipse cx="466.45" cy="252.7" rx="1.45" ry="1.2" fill="#111"/>
<ellipse cx="470.95" cy="252.7" rx="1.45" ry="1.2" fill="#111"/>
<polyline points="445.1,252.7 445.1,244.7 504.1,244.7 504.1,298" fill="none" stroke="#333333" stroke-width="0.95"/>
<text transform="translate(474.6,242) scale(1,0.76)" font-size="5.9" text-anchor="middle" fill="#222" stroke="#222" stroke-width="0.2">ns</text>
<polyline points="445.1,241 445.1,233 515.9,233 515.9,300.2" fill="none" stroke="#333333" stroke-width="0.95"/>
<ellipse cx="476" cy="229.1" rx="1.45" ry="1.2" fill="#111"/>
<ellipse cx="480.5" cy="229.1" rx="1.45" ry="1.2" fill="#111"/>
<ellipse cx="485" cy="229.1" rx="1.45" ry="1.2" fill="#111"/>
<polyline points="445.1,229.1 445.1,221.1 527.7,221.1 527.7,300.2" fill="none" stroke="#333333" stroke-width="0.95"/>
<text transform="translate(486.4,218.4) scale(1,0.76)" font-size="5.9" text-anchor="middle" fill="#222" stroke="#222" stroke-width="0.2">ns</text>
<polyline points="445.1,216.9 445.1,208.9 539.5,208.9 539.5,300.5" fill="none" stroke="#333333" stroke-width="0.95"/>
<ellipse cx="485.55" cy="205" rx="1.45" ry="1.2" fill="#111"/>
<ellipse cx="490.05" cy="205" rx="1.45" ry="1.2" fill="#111"/>
<ellipse cx="494.55" cy="205" rx="1.45" ry="1.2" fill="#111"/>
<ellipse cx="499.05" cy="205" rx="1.45" ry="1.2" fill="#111"/>
<g fill="#0000ff" stroke="#0000ff">
<rect x="441.1" y="300.1" width="8" height="2.8" rx="1.4" stroke="none"/><circle cx="444.3" cy="300.3" r="1.0" stroke="none"/><circle cx="446.7" cy="300.5" r="0.9" stroke="none"/>
</g>
<g fill="#ff0000" stroke="#ff0000">
<rect x="452.9" y="302.2" width="8" height="2.8" rx="1.4" stroke="none"/><circle cx="456.1" cy="302.4" r="1.0" stroke="none"/><circle cx="458.5" cy="302.6" r="0.9" stroke="none"/>
</g>
<g fill="#00b400" stroke="#00b400">
<rect x="464.7" y="297.6" width="8" height="2.8" rx="1.4" stroke="none"/><circle cx="467.9" cy="297.8" r="1.0" stroke="none"/><circle cx="470.3" cy="298" r="0.9" stroke="none"/>
</g>
<g fill="#e21ee2" stroke="#e21ee2">
<rect x="476.5" y="301.1" width="8" height="2.8" rx="1.4" stroke="none"/><circle cx="479.7" cy="301.3" r="1.0" stroke="none"/><circle cx="482.1" cy="301.5" r="0.9" stroke="none"/>
</g>
<g fill="#ff8000" stroke="#ff8000">
<rect x="488.3" y="301.6" width="8" height="2.8" rx="1.4" stroke="none"/><circle cx="491.5" cy="301.8" r="1.0" stroke="none"/><circle cx="493.9" cy="302" r="0.9" stroke="none"/>
</g>
<g fill="#000000" stroke="#000000">
<rect x="500.1" y="300.9" width="8" height="2.8" rx="1.4" stroke="none"/><circle cx="503.3" cy="301.1" r="1.0" stroke="none"/><circle cx="505.7" cy="301.3" r="0.9" stroke="none"/>
</g>
<g fill="#c07820" stroke="#c07820">
<rect x="511.9" y="301.6" width="8" height="2.8" rx="1.4" stroke="none"/><circle cx="515.1" cy="301.8" r="1.0" stroke="none"/><circle cx="517.5" cy="302" r="0.9" stroke="none"/>
</g>
<g fill="#00009c" stroke="#00009c">
<rect x="523.7" y="301.1" width="8" height="2.8" rx="1.4" stroke="none"/><circle cx="526.9" cy="301.3" r="1.0" stroke="none"/><circle cx="529.3" cy="301.5" r="0.9" stroke="none"/>
</g>
<g fill="#80005a" stroke="#80005a">
<rect x="535.5" y="302.1" width="8" height="2.8" rx="1.4" stroke="none"/><circle cx="538.7" cy="302.3" r="1.0" stroke="none"/><circle cx="541.1" cy="302.5" r="0.9" stroke="none"/>
</g>
<text transform="translate(6.4,342) scale(1.08,0.92)" font-size="11" font-weight="bold" fill="#111" stroke="#111" stroke-width="0.55">I</text>
<text transform="translate(82.8,339.7) scale(1,0.84)" font-size="6.8" font-weight="bold" text-anchor="middle" fill="#111" stroke="#111" stroke-width="0.4">NEK9</text>
<line x1="26.5" y1="398.8" x2="26.5" y2="454.2" stroke="#2a2a2a" stroke-width="1"/>
<line x1="23.5" y1="454.2" x2="26.5" y2="454.2" stroke="#2a2a2a" stroke-width="0.9"/>
<text transform="translate(22.2,455.8) scale(1,0.76)" font-size="4.9" font-weight="bold" text-anchor="end" fill="#222" stroke="#222" stroke-width="0.35">0.0</text>
<line x1="23.5" y1="435.8" x2="26.5" y2="435.8" stroke="#2a2a2a" stroke-width="0.9"/>
<text transform="translate(22.2,437.4) scale(1,0.76)" font-size="4.9" font-weight="bold" text-anchor="end" fill="#222" stroke="#222" stroke-width="0.35">0.2</text>
<line x1="23.5" y1="417.4" x2="26.5" y2="417.4" stroke="#2a2a2a" stroke-width="0.9"/>
<text transform="translate(22.2,419) scale(1,0.76)" font-size="4.9" font-weight="bold" text-anchor="end" fill="#222" stroke="#222" stroke-width="0.35">0.4</text>
<line x1="23.5" y1="398.8" x2="26.5" y2="398.8" stroke="#2a2a2a" stroke-width="0.9"/>
<text transform="translate(22.2,400.4) scale(1,0.76)" font-size="4.9" font-weight="bold" text-anchor="end" fill="#222" stroke="#222" stroke-width="0.35">0.6</text>
<text transform="translate(11.4,426.5) scale(1,0.76) rotate(-90)" font-size="6.2" font-weight="bold" text-anchor="middle" fill="#111" stroke="#111" stroke-width="0.4">Relative gene expression fold</text>
<line x1="26" y1="454.3" x2="135.9" y2="454.3" stroke="#2a2a2a" stroke-width="1"/>
<line x1="35.1" y1="454.3" x2="35.1" y2="456.6" stroke="#2a2a2a" stroke-width="0.8"/>
<text transform="translate(36.7,461.7) scale(1,0.76) rotate(-45)" font-size="5.5" font-weight="bold" text-anchor="end" fill="#222" stroke="#222" stroke-width="0.3">HEEC</text>
<line x1="46.9" y1="454.3" x2="46.9" y2="456.6" stroke="#2a2a2a" stroke-width="0.8"/>
<text transform="translate(48.5,461.7) scale(1,0.76) rotate(-45)" font-size="5.5" font-weight="bold" text-anchor="end" fill="#222" stroke="#222" stroke-width="0.3">BAR-T</text>
<line x1="58.7" y1="454.3" x2="58.7" y2="456.6" stroke="#2a2a2a" stroke-width="0.8"/>
<text transform="translate(60.3,461.7) scale(1,0.76) rotate(-45)" font-size="5.5" font-weight="bold" text-anchor="end" fill="#222" stroke="#222" stroke-width="0.3">CPA</text>
<line x1="70.5" y1="454.3" x2="70.5" y2="456.6" stroke="#2a2a2a" stroke-width="0.8"/>
<text transform="translate(72.1,461.7) scale(1,0.76) rotate(-45)" font-size="5.5" font-weight="bold" text-anchor="end" fill="#222" stroke="#222" stroke-width="0.3">CPB</text>
<line x1="82.3" y1="454.3" x2="82.3" y2="456.6" stroke="#2a2a2a" stroke-width="0.8"/>
<text transform="translate(83.9,461.7) scale(1,0.76) rotate(-45)" font-size="5.5" font-weight="bold" text-anchor="end" fill="#222" stroke="#222" stroke-width="0.3">FLO1</text>
<line x1="94.1" y1="454.3" x2="94.1" y2="456.6" stroke="#2a2a2a" stroke-width="0.8"/>
<text transform="translate(95.7,461.7) scale(1,0.76) rotate(-45)" font-size="5.5" font-weight="bold" text-anchor="end" fill="#222" stroke="#222" stroke-width="0.3">OE19</text>
<line x1="105.9" y1="454.3" x2="105.9" y2="456.6" stroke="#2a2a2a" stroke-width="0.8"/>
<text transform="translate(107.5,461.7) scale(1,0.76) rotate(-45)" font-size="5.5" font-weight="bold" text-anchor="end" fill="#222" stroke="#222" stroke-width="0.3">OE33</text>
<line x1="117.7" y1="454.3" x2="117.7" y2="456.6" stroke="#2a2a2a" stroke-width="0.8"/>
<text transform="translate(119.3,461.7) scale(1,0.76) rotate(-45)" font-size="5.5" font-weight="bold" text-anchor="end" fill="#222" stroke="#222" stroke-width="0.3">SKGT4</text>
<line x1="129.5" y1="454.3" x2="129.5" y2="456.6" stroke="#2a2a2a" stroke-width="0.8"/>
<text transform="translate(131.1,461.7) scale(1,0.76) rotate(-45)" font-size="5.5" font-weight="bold" text-anchor="end" fill="#222" stroke="#222" stroke-width="0.3">OAC ML1</text>
<polyline points="35.1,431.4 35.1,423.3 46.9,423.3 46.9,449" fill="none" stroke="#333333" stroke-width="0.95"/>
<ellipse cx="34.25" cy="419.4" rx="1.45" ry="1.2" fill="#111"/>
<ellipse cx="38.75" cy="419.4" rx="1.45" ry="1.2" fill="#111"/>
<ellipse cx="43.25" cy="419.4" rx="1.45" ry="1.2" fill="#111"/>
<ellipse cx="47.75" cy="419.4" rx="1.45" ry="1.2" fill="#111"/>
<polyline points="35.1,414.8 35.1,411.8 58.7,411.8 58.7,430" fill="none" stroke="#333333" stroke-width="0.95"/>
<text transform="translate(46.9,409.1) scale(1,0.76)" font-size="5.9" text-anchor="middle" fill="#222" stroke="#222" stroke-width="0.2">ns</text>
<polyline points="35.1,403.9 35.1,400.9 70.5,400.9 70.5,423" fill="none" stroke="#333333" stroke-width="0.95"/>
<ellipse cx="48.3" cy="397" rx="1.45" ry="1.2" fill="#111"/>
<ellipse cx="52.8" cy="397" rx="1.45" ry="1.2" fill="#111"/>
<ellipse cx="57.3" cy="397" rx="1.45" ry="1.2" fill="#111"/>
<polyline points="35.1,393.4 35.1,390.4 82.3,390.4 82.3,443.6" fill="none" stroke="#333333" stroke-width="0.95"/>
<ellipse cx="51.95" cy="386.5" rx="1.45" ry="1.2" fill="#111"/>
<ellipse cx="56.45" cy="386.5" rx="1.45" ry="1.2" fill="#111"/>
<ellipse cx="60.95" cy="386.5" rx="1.45" ry="1.2" fill="#111"/>
<ellipse cx="65.45" cy="386.5" rx="1.45" ry="1.2" fill="#111"/>
<polyline points="35.1,382.6 35.1,379.6 94.1,379.6 94.1,439.5" fill="none" stroke="#333333" stroke-width="0.95"/>
<ellipse cx="60.1" cy="375.7" rx="1.45" ry="1.2" fill="#111"/>
<ellipse cx="64.6" cy="375.7" rx="1.45" ry="1.2" fill="#111"/>
<ellipse cx="69.1" cy="375.7" rx="1.45" ry="1.2" fill="#111"/>
<polyline points="35.1,372.6 35.1,369.6 105.9,369.6 105.9,448.7" fill="none" stroke="#333333" stroke-width="0.95"/>
<ellipse cx="63.75" cy="365.7" rx="1.45" ry="1.2" fill="#111"/>
<ellipse cx="68.25" cy="365.7" rx="1.45" ry="1.2" fill="#111"/>
<ellipse cx="72.75" cy="365.7" rx="1.45" ry="1.2" fill="#111"/>
<ellipse cx="77.25" cy="365.7" rx="1.45" ry="1.2" fill="#111"/>
<polyline points="35.1,361.8 35.1,358.8 117.7,358.8 117.7,442.6" fill="none" stroke="#333333" stroke-width="0.95"/>
<ellipse cx="69.65" cy="354.9" rx="1.45" ry="1.2" fill="#111"/>
<ellipse cx="74.15" cy="354.9" rx="1.45" ry="1.2" fill="#111"/>
<ellipse cx="78.65" cy="354.9" rx="1.45" ry="1.2" fill="#111"/>
<ellipse cx="83.15" cy="354.9" rx="1.45" ry="1.2" fill="#111"/>
<polyline points="35.1,351.5 35.1,348.5 129.5,348.5 129.5,448.7" fill="none" stroke="#333333" stroke-width="0.95"/>
<ellipse cx="75.55" cy="344.6" rx="1.45" ry="1.2" fill="#111"/>
<ellipse cx="80.05" cy="344.6" rx="1.45" ry="1.2" fill="#111"/>
<ellipse cx="84.55" cy="344.6" rx="1.45" ry="1.2" fill="#111"/>
<ellipse cx="89.05" cy="344.6" rx="1.45" ry="1.2" fill="#111"/>
<g fill="#0000ff" stroke="#0000ff">
<line x1="35.1" y1="430.6" x2="35.1" y2="440.6" stroke-width="1.1"/><line x1="33.6" y1="430.6" x2="36.6" y2="430.6" stroke-width="1.1"/><line x1="33.6" y1="440.6" x2="36.6" y2="440.6" stroke-width="1.1"/><line x1="31.1" y1="435.4" x2="39.1" y2="435.4" stroke-width="1.6"/><circle cx="35.1" cy="430.8" r="1.6" stroke="none"/><circle cx="35.1" cy="440.4" r="1.6" stroke="none"/>
</g>
<g fill="#ff0000" stroke="#ff0000">
<rect x="42.9" y="451.8" width="8" height="2.8" rx="1.4" stroke="none"/><circle cx="46.1" cy="452" r="1.0" stroke="none"/><circle cx="48.5" cy="452.2" r="0.9" stroke="none"/>
</g>
<g fill="#00b400" stroke="#00b400">
<line x1="58.7" y1="434.5" x2="58.7" y2="441" stroke-width="1.1"/><line x1="57.2" y1="434.5" x2="60.2" y2="434.5" stroke-width="1.1"/><line x1="57.2" y1="441" x2="60.2" y2="441" stroke-width="1.1"/><line x1="54.95" y1="437.3" x2="62.45" y2="437.3" stroke-width="1.8"/><circle cx="58.7" cy="440.6" r="1.5" stroke="none"/><circle cx="56.7" cy="437.2" r="1.3" stroke="none"/><circle cx="60.7" cy="437.8" r="1.3" stroke="none"/>
</g>
<g fill="#e21ee2" stroke="#e21ee2">
<line x1="70.5" y1="424.3" x2="70.5" y2="429.7" stroke-width="1.1"/><line x1="68.7" y1="424.3" x2="72.3" y2="424.3" stroke-width="1.1"/><line x1="68.7" y1="429.7" x2="72.3" y2="429.7" stroke-width="1.1"/><line x1="66.5" y1="427.2" x2="74.5" y2="427.2" stroke-width="1.8"/><circle cx="70.5" cy="429.3" r="1.3" stroke="none"/>
</g>
<g fill="#ff8000" stroke="#ff8000">
<rect x="78.3" y="445.3" width="8" height="2.8" rx="1.4" stroke="none"/><circle cx="81.5" cy="445.5" r="1.0" stroke="none"/><circle cx="83.9" cy="445.7" r="0.9" stroke="none"/>
</g>
<g fill="#000000" stroke="#000000">
<rect x="90.1" y="441.9" width="8" height="3.4" rx="1.4" stroke="none"/><circle cx="93.3" cy="442.1" r="1.0" stroke="none"/><circle cx="95.7" cy="442.3" r="0.9" stroke="none"/>
</g>
<g fill="#c07820" stroke="#c07820">
<rect x="101.9" y="449.4" width="8" height="2.8" rx="1.4" stroke="none"/><circle cx="105.1" cy="449.6" r="1.0" stroke="none"/><circle cx="107.5" cy="449.8" r="0.9" stroke="none"/>
</g>
<g fill="#00009c" stroke="#00009c">
<rect x="113.7" y="443.9" width="8" height="4.2" rx="1.4" stroke="none"/><circle cx="116.9" cy="444.1" r="1.0" stroke="none"/><circle cx="119.3" cy="444.3" r="0.9" stroke="none"/>
</g>
<g fill="#80005a" stroke="#80005a">
<rect x="125.5" y="448.8" width="8" height="2.8" rx="1.4" stroke="none"/><circle cx="128.7" cy="449" r="1.0" stroke="none"/><circle cx="131.1" cy="449.2" r="0.9" stroke="none"/>
</g>
<text transform="translate(145.9,342.4) scale(1.08,0.92)" font-size="11" font-weight="bold" fill="#111" stroke="#111" stroke-width="0.55">J</text>
<text transform="translate(215.9,341.8) scale(1,0.84)" font-size="6.8" font-weight="bold" text-anchor="middle" fill="#111" stroke="#111" stroke-width="0.4">NEK10</text>
<line x1="164" y1="399.7" x2="164" y2="454.2" stroke="#2a2a2a" stroke-width="1"/>
<line x1="161" y1="454.2" x2="164" y2="454.2" stroke="#2a2a2a" stroke-width="0.9"/>
<text transform="translate(159.7,455.8) scale(1,0.76)" font-size="4.9" font-weight="bold" text-anchor="end" fill="#222" stroke="#222" stroke-width="0.35">0.00</text>
<line x1="161" y1="443.1" x2="164" y2="443.1" stroke="#2a2a2a" stroke-width="0.9"/>
<text transform="translate(159.7,444.7) scale(1,0.76)" font-size="4.9" font-weight="bold" text-anchor="end" fill="#222" stroke="#222" stroke-width="0.35">0.02</text>
<line x1="161" y1="432.1" x2="164" y2="432.1" stroke="#2a2a2a" stroke-width="0.9"/>
<text transform="translate(159.7,433.7) scale(1,0.76)" font-size="4.9" font-weight="bold" text-anchor="end" fill="#222" stroke="#222" stroke-width="0.35">0.04</text>
<line x1="161" y1="421.2" x2="164" y2="421.2" stroke="#2a2a2a" stroke-width="0.9"/>
<text transform="translate(159.7,422.8) scale(1,0.76)" font-size="4.9" font-weight="bold" text-anchor="end" fill="#222" stroke="#222" stroke-width="0.35">0.06</text>
<line x1="161" y1="410.7" x2="164" y2="410.7" stroke="#2a2a2a" stroke-width="0.9"/>
<text transform="translate(159.7,412.3) scale(1,0.76)" font-size="4.9" font-weight="bold" text-anchor="end" fill="#222" stroke="#222" stroke-width="0.35">0.08</text>
<line x1="161" y1="399.7" x2="164" y2="399.7" stroke="#2a2a2a" stroke-width="0.9"/>
<text transform="translate(159.7,401.3) scale(1,0.76)" font-size="4.9" font-weight="bold" text-anchor="end" fill="#222" stroke="#222" stroke-width="0.35">0.10</text>
<text transform="translate(145.8,427) scale(1,0.76) rotate(-90)" font-size="6.2" font-weight="bold" text-anchor="middle" fill="#111" stroke="#111" stroke-width="0.4">Relative gene expression fold</text>
<line x1="163.5" y1="454.3" x2="270.2" y2="454.3" stroke="#2a2a2a" stroke-width="1"/>
<line x1="171.8" y1="454.3" x2="171.8" y2="456.6" stroke="#2a2a2a" stroke-width="0.8"/>
<text transform="translate(173.4,461.7) scale(1,0.76) rotate(-45)" font-size="5.5" font-weight="bold" text-anchor="end" fill="#222" stroke="#222" stroke-width="0.3">HEEC</text>
<line x1="183.28" y1="454.3" x2="183.28" y2="456.6" stroke="#2a2a2a" stroke-width="0.8"/>
<text transform="translate(184.88,461.7) scale(1,0.76) rotate(-45)" font-size="5.5" font-weight="bold" text-anchor="end" fill="#222" stroke="#222" stroke-width="0.3">BAR-T</text>
<line x1="194.75" y1="454.3" x2="194.75" y2="456.6" stroke="#2a2a2a" stroke-width="0.8"/>
<text transform="translate(196.35,461.7) scale(1,0.76) rotate(-45)" font-size="5.5" font-weight="bold" text-anchor="end" fill="#222" stroke="#222" stroke-width="0.3">CPA</text>
<line x1="206.23" y1="454.3" x2="206.23" y2="456.6" stroke="#2a2a2a" stroke-width="0.8"/>
<text transform="translate(207.83,461.7) scale(1,0.76) rotate(-45)" font-size="5.5" font-weight="bold" text-anchor="end" fill="#222" stroke="#222" stroke-width="0.3">CPB</text>
<line x1="217.7" y1="454.3" x2="217.7" y2="456.6" stroke="#2a2a2a" stroke-width="0.8"/>
<text transform="translate(219.3,461.7) scale(1,0.76) rotate(-45)" font-size="5.5" font-weight="bold" text-anchor="end" fill="#222" stroke="#222" stroke-width="0.3">FLO1</text>
<line x1="229.18" y1="454.3" x2="229.18" y2="456.6" stroke="#2a2a2a" stroke-width="0.8"/>
<text transform="translate(230.78,461.7) scale(1,0.76) rotate(-45)" font-size="5.5" font-weight="bold" text-anchor="end" fill="#222" stroke="#222" stroke-width="0.3">OE19</text>
<line x1="240.65" y1="454.3" x2="240.65" y2="456.6" stroke="#2a2a2a" stroke-width="0.8"/>
<text transform="translate(242.25,461.7) scale(1,0.76) rotate(-45)" font-size="5.5" font-weight="bold" text-anchor="end" fill="#222" stroke="#222" stroke-width="0.3">OE33</text>
<line x1="252.13" y1="454.3" x2="252.13" y2="456.6" stroke="#2a2a2a" stroke-width="0.8"/>
<text transform="translate(253.73,461.7) scale(1,0.76) rotate(-45)" font-size="5.5" font-weight="bold" text-anchor="end" fill="#222" stroke="#222" stroke-width="0.3">SKGT4</text>
<line x1="263.6" y1="454.3" x2="263.6" y2="456.6" stroke="#2a2a2a" stroke-width="0.8"/>
<text transform="translate(265.2,461.7) scale(1,0.76) rotate(-45)" font-size="5.5" font-weight="bold" text-anchor="end" fill="#222" stroke="#222" stroke-width="0.3">OAC ML1</text>
<polyline points="171.8,445.4 171.8,439.6 183.28,439.6 183.28,449" fill="none" stroke="#333333" stroke-width="0.95"/>
<ellipse cx="175.29" cy="435.7" rx="1.45" ry="1.2" fill="#111"/>
<ellipse cx="179.79" cy="435.7" rx="1.45" ry="1.2" fill="#111"/>
<polyline points="171.8,429.5 171.8,427 194.75,427 194.75,443" fill="none" stroke="#333333" stroke-width="0.95"/>
<text transform="translate(183.28,424.3) scale(1,0.76)" font-size="5.9" text-anchor="middle" fill="#222" stroke="#222" stroke-width="0.2">ns</text>
<polyline points="171.8,424 171.8,416 206.23,416 206.23,444.6" fill="none" stroke="#333333" stroke-width="0.95"/>
<text transform="translate(189.01,413.3) scale(1,0.76)" font-size="5.9" text-anchor="middle" fill="#222" stroke="#222" stroke-width="0.2">ns</text>
<polyline points="171.8,412.5 171.8,404.5 217.7,404.5 217.7,443.6" fill="none" stroke="#333333" stroke-width="0.95"/>
<text transform="translate(194.75,401.8) scale(1,0.76)" font-size="5.9" text-anchor="middle" fill="#222" stroke="#222" stroke-width="0.2">ns</text>
<polyline points="171.8,401.3 171.8,393.3 229.18,393.3 229.18,449.3" fill="none" stroke="#333333" stroke-width="0.95"/>
<ellipse cx="198.24" cy="389.4" rx="1.45" ry="1.2" fill="#111"/>
<ellipse cx="202.74" cy="389.4" rx="1.45" ry="1.2" fill="#111"/>
<polyline points="171.8,389.8 171.8,381.8 240.65,381.8 240.65,449.7" fill="none" stroke="#333333" stroke-width="0.95"/>
<ellipse cx="203.98" cy="377.9" rx="1.45" ry="1.2" fill="#111"/>
<ellipse cx="208.48" cy="377.9" rx="1.45" ry="1.2" fill="#111"/>
<polyline points="171.8,378 171.8,370 252.13,370 252.13,448.7" fill="none" stroke="#333333" stroke-width="0.95"/>
<text transform="translate(211.96,367.3) scale(1,0.76)" font-size="5.9" text-anchor="middle" fill="#222" stroke="#222" stroke-width="0.2">ns</text>
<polyline points="171.8,366.4 171.8,358.4 263.6,358.4 263.6,445.2" fill="none" stroke="#333333" stroke-width="0.95"/>
<text transform="translate(217.7,355.7) scale(1,0.76)" font-size="5.9" text-anchor="middle" fill="#222" stroke="#222" stroke-width="0.2">ns</text>
<g fill="#0000ff" stroke="#0000ff">
<rect x="167.8" y="448" width="8" height="2.8" rx="1.4" stroke="none"/><circle cx="171" cy="448.2" r="1.0" stroke="none"/><circle cx="173.4" cy="448.4" r="0.9" stroke="none"/>
</g>
<g fill="#ff0000" stroke="#ff0000">
<rect x="179.28" y="451.1" width="8" height="2.8" rx="1.4" stroke="none"/><circle cx="182.47" cy="451.3" r="1.0" stroke="none"/><circle cx="184.88" cy="451.5" r="0.9" stroke="none"/>
</g>
<g fill="#00b400" stroke="#00b400">
<rect x="190.75" y="445.4" width="8" height="3" rx="1.4" stroke="none"/><circle cx="193.95" cy="445.6" r="1.0" stroke="none"/><circle cx="196.35" cy="445.8" r="0.9" stroke="none"/>
</g>
<g fill="#e21ee2" stroke="#e21ee2">
<rect x="202.23" y="446.4" width="8" height="3" rx="1.4" stroke="none"/><circle cx="205.43" cy="446.6" r="1.0" stroke="none"/><circle cx="207.83" cy="446.8" r="0.9" stroke="none"/>
</g>
<g fill="#ff8000" stroke="#ff8000">
<rect x="213.7" y="445.7" width="8" height="3.2" rx="1.4" stroke="none"/><circle cx="216.9" cy="445.9" r="1.0" stroke="none"/><circle cx="219.3" cy="446.1" r="0.9" stroke="none"/>
</g>
<g fill="#000000" stroke="#000000">
<rect x="225.18" y="451.4" width="8" height="2.8" rx="1.4" stroke="none"/><circle cx="228.38" cy="451.6" r="1.0" stroke="none"/><circle cx="230.78" cy="451.8" r="0.9" stroke="none"/>
</g>
<g fill="#c07820" stroke="#c07820">
<rect x="236.65" y="451.4" width="8" height="2.8" rx="1.4" stroke="none"/><circle cx="239.85" cy="451.6" r="1.0" stroke="none"/><circle cx="242.25" cy="451.8" r="0.9" stroke="none"/>
</g>
<g fill="#00009c" stroke="#00009c">
<rect x="248.13" y="450" width="8" height="2.8" rx="1.4" stroke="none"/><circle cx="251.33" cy="450.2" r="1.0" stroke="none"/><circle cx="253.73" cy="450.4" r="0.9" stroke="none"/>
</g>
<g fill="#80005a" stroke="#80005a">
<rect x="259.85" y="448" width="7.5" height="3.4" rx="1.4" stroke="none"/><circle cx="262.8" cy="448.2" r="1.0" stroke="none"/><circle cx="265.2" cy="448.4" r="0.9" stroke="none"/><line x1="263.6" y1="446.3" x2="263.6" y2="450" stroke-width="1.1"/><circle cx="263.6" cy="446.6" r="1.4" stroke="none"/>
</g>
<text transform="translate(280,342.9) scale(1.08,0.92)" font-size="11" font-weight="bold" fill="#111" stroke="#111" stroke-width="0.55">K</text>
<text transform="translate(351.5,341.4) scale(1,0.84)" font-size="6.8" font-weight="bold" text-anchor="middle" fill="#111" stroke="#111" stroke-width="0.4">NEK11</text>
<line x1="296.7" y1="399.3" x2="296.7" y2="454.2" stroke="#2a2a2a" stroke-width="1"/>
<line x1="293.7" y1="454.2" x2="296.7" y2="454.2" stroke="#2a2a2a" stroke-width="0.9"/>
<text transform="translate(292.4,455.8) scale(1,0.76)" font-size="4.9" font-weight="bold" text-anchor="end" fill="#222" stroke="#222" stroke-width="0.35">0.0</text>
<line x1="293.7" y1="436.2" x2="296.7" y2="436.2" stroke="#2a2a2a" stroke-width="0.9"/>
<text transform="translate(292.4,437.8) scale(1,0.76)" font-size="4.9" font-weight="bold" text-anchor="end" fill="#222" stroke="#222" stroke-width="0.35">0.2</text>
<line x1="293.7" y1="417.6" x2="296.7" y2="417.6" stroke="#2a2a2a" stroke-width="0.9"/>
<text transform="translate(292.4,419.2) scale(1,0.76)" font-size="4.9" font-weight="bold" text-anchor="end" fill="#222" stroke="#222" stroke-width="0.35">0.4</text>
<line x1="293.7" y1="399.3" x2="296.7" y2="399.3" stroke="#2a2a2a" stroke-width="0.9"/>
<text transform="translate(292.4,400.9) scale(1,0.76)" font-size="4.9" font-weight="bold" text-anchor="end" fill="#222" stroke="#222" stroke-width="0.35">0.6</text>
<text transform="translate(281.4,426.8) scale(1,0.76) rotate(-90)" font-size="6.2" font-weight="bold" text-anchor="middle" fill="#111" stroke="#111" stroke-width="0.4">Relative gene expression fold</text>
<line x1="296.2" y1="454.3" x2="406.8" y2="454.3" stroke="#2a2a2a" stroke-width="1"/>
<line x1="304.5" y1="454.3" x2="304.5" y2="456.6" stroke="#2a2a2a" stroke-width="0.8"/>
<text transform="translate(306.1,461.7) scale(1,0.76) rotate(-45)" font-size="5.5" font-weight="bold" text-anchor="end" fill="#222" stroke="#222" stroke-width="0.3">HEEC</text>
<line x1="316.23" y1="454.3" x2="316.23" y2="456.6" stroke="#2a2a2a" stroke-width="0.8"/>
<text transform="translate(317.83,461.7) scale(1,0.76) rotate(-45)" font-size="5.5" font-weight="bold" text-anchor="end" fill="#222" stroke="#222" stroke-width="0.3">BAR-T</text>
<line x1="327.95" y1="454.3" x2="327.95" y2="456.6" stroke="#2a2a2a" stroke-width="0.8"/>
<text transform="translate(329.55,461.7) scale(1,0.76) rotate(-45)" font-size="5.5" font-weight="bold" text-anchor="end" fill="#222" stroke="#222" stroke-width="0.3">CPA</text>
<line x1="339.68" y1="454.3" x2="339.68" y2="456.6" stroke="#2a2a2a" stroke-width="0.8"/>
<text transform="translate(341.28,461.7) scale(1,0.76) rotate(-45)" font-size="5.5" font-weight="bold" text-anchor="end" fill="#222" stroke="#222" stroke-width="0.3">CPB</text>
<line x1="351.4" y1="454.3" x2="351.4" y2="456.6" stroke="#2a2a2a" stroke-width="0.8"/>
<text transform="translate(353,461.7) scale(1,0.76) rotate(-45)" font-size="5.5" font-weight="bold" text-anchor="end" fill="#222" stroke="#222" stroke-width="0.3">FLO1</text>
<line x1="363.12" y1="454.3" x2="363.12" y2="456.6" stroke="#2a2a2a" stroke-width="0.8"/>
<text transform="translate(364.73,461.7) scale(1,0.76) rotate(-45)" font-size="5.5" font-weight="bold" text-anchor="end" fill="#222" stroke="#222" stroke-width="0.3">OE19</text>
<line x1="374.85" y1="454.3" x2="374.85" y2="456.6" stroke="#2a2a2a" stroke-width="0.8"/>
<text transform="translate(376.45,461.7) scale(1,0.76) rotate(-45)" font-size="5.5" font-weight="bold" text-anchor="end" fill="#222" stroke="#222" stroke-width="0.3">OE33</text>
<line x1="386.58" y1="454.3" x2="386.58" y2="456.6" stroke="#2a2a2a" stroke-width="0.8"/>
<text transform="translate(388.18,461.7) scale(1,0.76) rotate(-45)" font-size="5.5" font-weight="bold" text-anchor="end" fill="#222" stroke="#222" stroke-width="0.3">SKGT4</text>
<line x1="398.3" y1="454.3" x2="398.3" y2="456.6" stroke="#2a2a2a" stroke-width="0.8"/>
<text transform="translate(399.9,461.7) scale(1,0.76) rotate(-45)" font-size="5.5" font-weight="bold" text-anchor="end" fill="#222" stroke="#222" stroke-width="0.3">OAC ML1</text>
<polyline points="304.5,442.3 304.5,435.8 316.23,435.8 316.23,448" fill="none" stroke="#333333" stroke-width="0.95"/>
<ellipse cx="303.61" cy="431.9" rx="1.45" ry="1.2" fill="#111"/>
<ellipse cx="308.11" cy="431.9" rx="1.45" ry="1.2" fill="#111"/>
<ellipse cx="312.61" cy="431.9" rx="1.45" ry="1.2" fill="#111"/>
<ellipse cx="317.11" cy="431.9" rx="1.45" ry="1.2" fill="#111"/>
<polyline points="304.5,426.8 304.5,424.3 327.95,424.3 327.95,447" fill="none" stroke="#333333" stroke-width="0.95"/>
<ellipse cx="309.48" cy="420.4" rx="1.45" ry="1.2" fill="#111"/>
<ellipse cx="313.98" cy="420.4" rx="1.45" ry="1.2" fill="#111"/>
<ellipse cx="318.48" cy="420.4" rx="1.45" ry="1.2" fill="#111"/>
<ellipse cx="322.98" cy="420.4" rx="1.45" ry="1.2" fill="#111"/>
<polyline points="304.5,415.3 304.5,412.8 339.68,412.8 339.68,448.7" fill="none" stroke="#333333" stroke-width="0.95"/>
<ellipse cx="315.34" cy="408.9" rx="1.45" ry="1.2" fill="#111"/>
<ellipse cx="319.84" cy="408.9" rx="1.45" ry="1.2" fill="#111"/>
<ellipse cx="324.34" cy="408.9" rx="1.45" ry="1.2" fill="#111"/>
<ellipse cx="328.84" cy="408.9" rx="1.45" ry="1.2" fill="#111"/>
<polyline points="304.5,408.3 304.5,400.3 351.4,400.3 351.4,449.3" fill="none" stroke="#333333" stroke-width="0.95"/>
<ellipse cx="321.2" cy="396.4" rx="1.45" ry="1.2" fill="#111"/>
<ellipse cx="325.7" cy="396.4" rx="1.45" ry="1.2" fill="#111"/>
<ellipse cx="330.2" cy="396.4" rx="1.45" ry="1.2" fill="#111"/>
<ellipse cx="334.7" cy="396.4" rx="1.45" ry="1.2" fill="#111"/>
<polyline points="304.5,396.5 304.5,388.5 363.12,388.5 363.12,450.8" fill="none" stroke="#333333" stroke-width="0.95"/>
<ellipse cx="327.06" cy="384.6" rx="1.45" ry="1.2" fill="#111"/>
<ellipse cx="331.56" cy="384.6" rx="1.45" ry="1.2" fill="#111"/>
<ellipse cx="336.06" cy="384.6" rx="1.45" ry="1.2" fill="#111"/>
<ellipse cx="340.56" cy="384.6" rx="1.45" ry="1.2" fill="#111"/>
<polyline points="304.5,384.9 304.5,376.9 374.85,376.9 374.85,448.7" fill="none" stroke="#333333" stroke-width="0.95"/>
<ellipse cx="332.93" cy="373" rx="1.45" ry="1.2" fill="#111"/>
<ellipse cx="337.43" cy="373" rx="1.45" ry="1.2" fill="#111"/>
<ellipse cx="341.93" cy="373" rx="1.45" ry="1.2" fill="#111"/>
<ellipse cx="346.43" cy="373" rx="1.45" ry="1.2" fill="#111"/>
<polyline points="304.5,372.9 304.5,364.9 386.58,364.9 386.58,444.6" fill="none" stroke="#333333" stroke-width="0.95"/>
<ellipse cx="341.04" cy="361" rx="1.45" ry="1.2" fill="#111"/>
<ellipse cx="345.54" cy="361" rx="1.45" ry="1.2" fill="#111"/>
<ellipse cx="350.04" cy="361" rx="1.45" ry="1.2" fill="#111"/>
<polyline points="304.5,361.1 304.5,353.1 398.3,353.1 398.3,449.7" fill="none" stroke="#333333" stroke-width="0.95"/>
<ellipse cx="344.65" cy="349.2" rx="1.45" ry="1.2" fill="#111"/>
<ellipse cx="349.15" cy="349.2" rx="1.45" ry="1.2" fill="#111"/>
<ellipse cx="353.65" cy="349.2" rx="1.45" ry="1.2" fill="#111"/>
<ellipse cx="358.15" cy="349.2" rx="1.45" ry="1.2" fill="#111"/>
<g fill="#0000ff" stroke="#0000ff">
<circle cx="304.5" cy="446.2" r="3.2" stroke="none"/><circle cx="304.5" cy="442.6" r="1.1" stroke="none"/><circle cx="304.5" cy="449.8" r="1.1" stroke="none"/><circle cx="301.4" cy="444.4" r="1" stroke="none"/><circle cx="307.6" cy="444.4" r="1" stroke="none"/><circle cx="301.4" cy="448.1" r="1" stroke="none"/><circle cx="307.6" cy="448.1" r="1" stroke="none"/>
</g>
<g fill="#ff0000" stroke="#ff0000">
<rect x="312.23" y="450.1" width="8" height="2.8" rx="1.4" stroke="none"/><circle cx="315.43" cy="450.3" r="1.0" stroke="none"/><circle cx="317.83" cy="450.5" r="0.9" stroke="none"/>
</g>
<g fill="#00b400" stroke="#00b400">
<rect x="323.95" y="448.7" width="8" height="3.4" rx="1.4" stroke="none"/><circle cx="327.15" cy="448.9" r="1.0" stroke="none"/><circle cx="329.55" cy="449.1" r="0.9" stroke="none"/>
</g>
<g fill="#e21ee2" stroke="#e21ee2">
<rect x="335.68" y="450" width="8" height="2.8" rx="1.4" stroke="none"/><circle cx="338.88" cy="450.2" r="1.0" stroke="none"/><circle cx="341.28" cy="450.4" r="0.9" stroke="none"/>
</g>
<g fill="#ff8000" stroke="#ff8000">
<rect x="347.4" y="450.4" width="8" height="2.8" rx="1.4" stroke="none"/><circle cx="350.6" cy="450.6" r="1.0" stroke="none"/><circle cx="353" cy="450.8" r="0.9" stroke="none"/>
</g>
<g fill="#000000" stroke="#000000">
<rect x="359.12" y="451.8" width="8" height="2.8" rx="1.4" stroke="none"/><circle cx="362.32" cy="452" r="1.0" stroke="none"/><circle cx="364.73" cy="452.2" r="0.9" stroke="none"/>
</g>
<g fill="#c07820" stroke="#c07820">
<rect x="370.85" y="450.4" width="8" height="2.8" rx="1.4" stroke="none"/><circle cx="374.05" cy="450.6" r="1.0" stroke="none"/><circle cx="376.45" cy="450.8" r="0.9" stroke="none"/>
</g>
<g fill="#00009c" stroke="#00009c">
<rect x="382.58" y="447.3" width="8" height="2.8" rx="1.4" stroke="none"/><circle cx="385.78" cy="447.5" r="1.0" stroke="none"/><circle cx="388.18" cy="447.7" r="0.9" stroke="none"/>
</g>
<g fill="#80005a" stroke="#80005a">
<rect x="394.3" y="451.4" width="8" height="2.8" rx="1.4" stroke="none"/><circle cx="397.5" cy="451.6" r="1.0" stroke="none"/><circle cx="399.9" cy="451.8" r="0.9" stroke="none"/>
</g>
</svg>
</body></html>
